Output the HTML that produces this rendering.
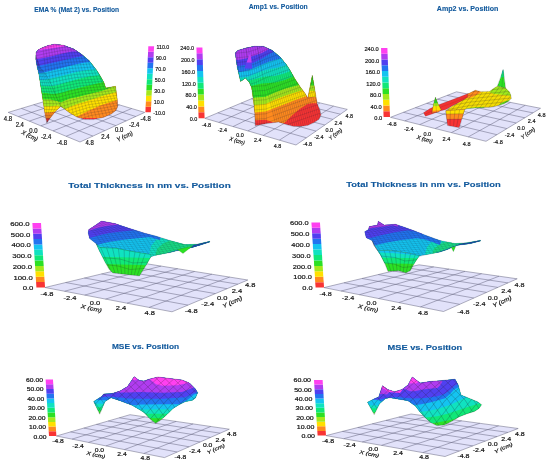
<!DOCTYPE html>
<html><head><meta charset="utf-8"><title>Plots</title>
<style>html,body{margin:0;padding:0;background:#fff;}svg{display:block;font-family:"Liberation Sans",sans-serif;filter:blur(0.35px);}</style>
</head><body>
<svg width="550" height="467" viewBox="0 0 550 467">
<rect width="550" height="467" fill="#ffffff"/>
<text transform="translate(76.7,12.2) scale(0.880,1)" font-size="7.60" text-anchor="middle" font-weight="bold" font-style="normal" fill="#10589c" stroke="#10589c" stroke-width="0.12">EMA % (Mat 2) vs. Position</text>
<polygon points="8.2,112.4 76.0,92.0 144.7,112.4 80.0,142.0" fill="#e2e2fa"/>
<path d="M8.2,112.4L76.0,92.0M8.2,112.4L80.0,142.0M18.4,116.6L86.1,95.0M21.4,108.4L92.9,136.1M29.3,121.1L96.6,98.1M33.7,104.7L104.8,130.6M40.8,125.8L107.7,101.4M45.2,101.3L115.9,125.6M53.0,130.9L119.4,104.9M56.1,98.0L126.2,120.9M66.1,136.3L131.7,108.5M66.3,94.9L135.8,116.5M80.0,142.0L144.7,112.4M76.0,92.0L144.7,112.4" stroke="#62627c" stroke-width="0.5" fill="none"/>
<clipPath id="c1"><polygon points="46.8,123.1 44.9,113.5 43.0,100.7 41.0,87.8 39.1,75.0 37.2,67.1 35.9,59.4 36.0,52.5 38.0,50.0 41.7,47.9 48.0,45.5 54.5,44.2 63.5,45.3 73.8,49.1 81.5,54.3 89.2,60.7 96.8,70.4 100.7,76.8 103.9,82.6 105.8,88.0 115.5,86.3 116.5,93.5 117.5,101.2 117.5,107.0 116.0,110.3 111.6,113.8 103.9,117.2 93.6,119.6 84.7,119.6 77.0,117.1 69.3,112.6 60.9,106.2 55.8,110.9 50.7,117.4"/></clipPath>
<g clip-path="url(#c1)">
<polygon points="46.8,123.1 44.9,113.5 43.0,100.7 41.0,87.8 39.1,75.0 37.2,67.1 35.9,59.4 36.0,52.5 38.0,50.0 41.7,47.9 48.0,45.5 54.5,44.2 63.5,45.3 73.8,49.1 81.5,54.3 89.2,60.7 96.8,70.4 100.7,76.8 103.9,82.6 105.8,88.0 115.5,86.3 116.5,93.5 117.5,101.2 117.5,107.0 116.0,110.3 111.6,113.8 103.9,117.2 93.6,119.6 84.7,119.6 77.0,117.1 69.3,112.6 60.9,106.2 55.8,110.9 50.7,117.4" fill="#f83434"/>
<polygon points="44.0,118.8 51.0,118.0 451.0,118.0 451.0,-282.0 -356.0,-281.2 -356.0,118.8" fill="#ff8a1e"/>
<polygon points="42.0,112.6 49.0,112.4 56.0,111.5 62.0,112.5 70.0,118.0 77.0,116.6 88.5,110.8 101.4,105.1 119.0,99.3 519.0,99.3 519.0,-300.7 -358.0,-287.4 -358.0,112.6" fill="#ffe000"/>
<polygon points="41.0,106.2 50.0,106.2 58.0,105.5 61.0,108.0 64.0,109.5 67.0,108.3 70.0,106.7 75.7,104.6 88.5,100.5 101.4,96.3 119.0,91.2 519.0,91.2 519.0,-308.8 -359.0,-293.8 -359.0,106.2" fill="#a4e81c"/>
<polygon points="40.0,99.4 50.0,99.6 57.0,101.0 60.9,102.5 65.0,100.5 70.0,98.6 75.7,97.5 88.5,94.2 101.4,91.0 106.5,89.3 116.0,85.0 516.0,85.0 516.0,-315.0 -360.0,-300.6 -360.0,99.4" fill="#2ce024"/>
<polygon points="39.0,92.6 46.0,93.0 52.0,94.0 58.0,93.6 64.0,92.0 70.0,90.0 75.7,88.8 88.5,85.6 101.4,82.4 106.0,81.0 506.0,81.0 506.0,-319.0 -361.0,-307.4 -361.0,92.6" fill="#10e878"/>
<polygon points="38.0,86.1 45.0,86.3 50.7,86.2 56.0,85.5 63.5,83.2 76.3,79.5 88.5,76.5 100.0,75.3 104.0,75.0 504.0,75.0 504.0,-325.0 -362.0,-313.9 -362.0,86.1" fill="#10e2c0"/>
<polygon points="37.0,80.1 44.0,80.0 50.7,78.6 63.5,75.4 76.3,72.0 88.0,69.8 98.0,69.2 498.0,69.2 498.0,-330.8 -363.0,-319.9 -363.0,80.1" fill="#14c4f0"/>
<polygon points="36.0,73.7 44.0,72.6 50.7,70.8 63.5,67.6 76.3,64.2 85.0,62.4 93.0,62.0 493.0,62.0 493.0,-338.0 -364.0,-326.3 -364.0,73.7" fill="#2274f0"/>
<polygon points="35.0,66.4 44.0,64.8 50.7,63.2 63.5,60.3 76.3,57.2 82.0,56.3 88.0,57.0 488.0,57.0 488.0,-343.0 -365.0,-333.6 -365.0,66.4" fill="#5040f0"/>
<polygon points="34.0,59.6 42.0,58.2 50.7,56.5 63.5,53.3 72.0,51.4 80.0,51.4 480.0,51.4 480.0,-348.6 -366.0,-340.4 -366.0,59.6" fill="#b03cf0"/>
<polygon points="34.0,51.5 38.0,50.3 44.0,49.3 50.7,48.2 60.0,47.0 67.4,45.5 72.0,45.5 472.0,45.5 472.0,-354.5 -366.0,-348.5 -366.0,51.5" fill="#ff40f0"/>
<path d="M33.0,46.3L35.9,46.7L41.9,45.4L49.9,43.7L61.9,41.5L77.9,40.4L95.9,39.0L120.9,38.4M33.0,49.3L35.9,49.7L41.9,48.4L49.9,46.7L61.9,44.5L77.9,43.4L95.9,42.0L120.9,41.4M33.0,52.3L35.9,52.7L41.9,51.4L49.9,49.7L61.9,47.5L77.9,46.4L95.9,45.0L120.9,44.4M33.0,55.3L35.9,55.7L41.9,54.4L49.9,52.7L61.9,50.5L77.9,49.4L95.9,48.0L120.9,47.4M33.0,58.3L36.2,58.7L42.2,57.4L50.2,55.7L62.2,53.5L78.2,52.4L96.2,51.0L121.2,50.4M33.0,61.3L36.5,61.7L42.5,60.4L50.5,58.7L62.5,56.5L78.5,55.4L96.5,54.0L121.5,53.4M33.0,64.3L38.3,64.7L44.3,63.4L52.3,61.7L64.3,59.5L80.3,58.4L98.3,57.0L123.3,56.4M33.0,67.3L40.6,67.7L46.6,66.4L54.6,64.7L66.6,62.5L82.6,61.4L100.6,60.0L125.6,59.4M33.0,70.3L42.7,70.7L48.7,69.4L56.7,67.7L68.7,65.5L84.7,64.4L102.7,63.0L127.7,62.4M33.0,73.3L44.9,73.7L50.9,72.4L58.9,70.7L70.9,68.5L86.9,67.4L104.9,66.0L129.9,65.4M33.0,76.3L46.9,76.7L52.9,75.4L60.9,73.7L72.9,71.5L88.9,70.4L106.9,69.0L131.9,68.4M33.0,79.3L48.6,79.7L54.6,78.4L62.6,76.7L74.6,74.5L90.6,73.4L108.6,72.0L133.6,71.4M33.0,82.3L50.2,82.7L56.2,81.4L64.2,79.7L76.2,77.5L92.2,76.4L110.2,75.0L135.2,74.4M33.0,85.3L51.7,85.7L57.7,84.4L65.7,82.7L77.7,80.5L93.7,79.3L111.7,77.9L136.7,77.2M33.0,88.3L52.8,88.7L58.8,87.3L66.8,85.5L78.8,83.2L94.8,81.9L112.8,80.3L137.8,79.4M33.0,91.3L54.0,91.7L60.0,90.2L68.0,88.4L80.0,85.9L96.0,84.5L114.0,82.7L139.0,81.5M33.0,94.3L55.2,94.7L61.2,93.1L69.2,91.2L81.2,88.6L97.2,87.1L115.2,85.1L140.2,83.7M33.0,97.3L56.6,97.7L62.6,96.1L70.6,94.0L82.6,91.3L98.6,89.7L116.6,87.5L141.6,85.8M33.0,100.3L58.0,100.7L64.0,99.0L72.0,96.9L84.0,94.0L100.0,92.2L118.0,89.9L143.0,88.0M33.0,103.3L59.4,103.7L65.4,101.9L73.4,99.7L85.4,96.7L101.4,94.8L119.4,92.3L144.4,90.1M33.0,106.3L60.8,106.7L66.8,104.9L74.8,102.6L86.8,99.4L102.8,97.4L120.8,94.7L145.8,92.3M33.0,109.3L61.4,109.7L67.4,107.8L75.4,105.4L87.4,102.1L103.4,100.0L121.4,97.1L146.4,94.4M33.0,112.3L62.0,112.7L68.0,110.7L76.0,108.2L88.0,104.8L104.0,102.6L122.0,99.5L147.0,96.6M33.0,115.3L62.6,115.7L68.6,113.7L76.6,111.1L88.6,107.5L104.6,105.1L122.6,101.9L147.6,98.7M33.0,118.3L63.2,118.7L69.2,116.6L77.2,113.9L89.2,110.2L105.2,107.7L123.2,104.3L148.2,100.9M33.0,121.3L63.8,121.7L69.8,119.5L77.8,116.8L89.8,112.9L105.8,110.3L123.8,106.7L148.8,103.0M33.0,124.3L64.4,124.7L70.4,122.5L78.4,119.6L90.4,115.6L106.4,112.9L124.4,109.1L149.4,105.2" fill="none" stroke="#202030" stroke-width="0.40" stroke-opacity="0.42"/>
</g>
<polygon points="46.8,123.1 44.9,113.5 43.0,100.7 41.0,87.8 39.1,75.0 37.2,67.1 35.9,59.4 36.0,52.5 38.0,50.0 41.7,47.9 48.0,45.5 54.5,44.2 63.5,45.3 73.8,49.1 81.5,54.3 89.2,60.7 96.8,70.4 100.7,76.8 103.9,82.6 105.8,88.0 115.5,86.3 116.5,93.5 117.5,101.2 117.5,107.0 116.0,110.3 111.6,113.8 103.9,117.2 93.6,119.6 84.7,119.6 77.0,117.1 69.3,112.6 60.9,106.2 55.8,110.9 50.7,117.4" fill="none" stroke="#202030" stroke-width="0.4" stroke-opacity="0.6"/>
<clipPath id="c2"><polygon points="35.9,55.0 37.2,67.1 39.1,75.0 41.0,87.8 43.0,100.7 44.9,113.5 46.8,123.1 46.8,123.1 55.8,110.9 60.8,106.5 55.0,94.0 51.2,84.3 46.4,75.6 41.6,68.9 36.5,57.0"/></clipPath>
<path d="M36.0,55.4L36.9,60.7L37.9,66.0L39.3,71.2L40.9,76.3L42.1,81.6L43.2,86.8L44.3,92.1L45.4,97.4L46.6,102.7L46.8,107.8L46.6,112.9L46.7,118.0L46.8,123.1M36.1,55.8L37.4,61.1L38.7,66.5L40.6,71.6L42.6,76.7L44.2,81.9L45.6,87.2L47.0,92.6L48.4,97.9L49.9,103.2L49.5,108.1L48.4,113.0L47.6,118.1L46.8,123.1M36.3,56.2L37.9,61.6L39.5,67.0L41.9,72.0L44.3,77.1L46.3,82.3L48.0,87.7L49.6,93.1L51.5,98.4L53.3,103.7L52.3,108.5L50.2,113.2L48.5,118.2L46.8,123.1M36.4,56.6L38.4,62.0L40.3,67.4L43.2,72.4L46.0,77.5L48.4,82.7L50.4,88.1L52.3,93.5L54.5,98.9L56.6,104.2L55.0,108.8L52.0,113.4L49.4,118.2L46.8,123.1" fill="none" stroke="#202030" stroke-width="0.4" stroke-opacity="0.42" clip-path="url(#c2)"/>
<clipPath id="c3"><polygon points="36.0,52.5 38.0,50.0 41.7,47.9 48.0,45.5 54.5,44.2 63.5,45.3 73.8,49.1 81.5,54.3 89.2,60.7 96.8,70.4 100.7,76.8 103.9,82.6 105.8,88.0 115.5,86.3 116.5,93.5 117.5,101.2 117.5,107.0 116.0,110.3 111.6,113.8 103.9,117.2 93.6,119.6 84.7,119.6 77.0,117.1 69.3,112.6 60.9,106.2 55.0,94.0 51.2,84.3 46.4,75.6 41.6,68.9 36.5,57.0"/></clipPath>
<path d="M42.0,40.0L45.6,70.0L49.4,100.0L52.8,125.0M44.6,40.0L48.6,70.0L52.9,100.0L56.6,125.0M47.3,40.0L51.7,70.0L56.4,100.0L60.4,125.0M50.0,40.0L54.7,70.0L59.8,100.0L64.3,125.0M52.6,40.0L57.8,70.0L63.3,100.0L68.1,125.0M55.2,40.0L60.8,70.0L66.7,100.0L71.9,125.0M57.9,40.0L63.8,70.0L70.2,100.0L75.7,125.0M60.5,40.0L66.9,70.0L73.6,100.0L79.5,125.0M63.2,40.0L69.9,70.0L77.1,100.0L83.4,125.0M65.8,40.0L73.0,70.0L80.5,100.0L87.2,125.0M68.5,40.0L76.0,70.0L84.0,100.0L91.0,125.0M71.2,40.0L79.0,70.0L87.5,100.0L94.8,125.0M73.8,40.0L82.1,70.0L90.9,100.0L98.6,125.0M76.4,40.0L85.1,70.0L94.4,100.0L102.5,125.0M79.1,40.0L88.2,70.0L97.8,100.0L106.3,125.0M81.8,40.0L91.2,70.0L101.3,100.0L110.1,125.0M84.4,40.0L94.2,70.0L104.7,100.0L113.9,125.0M87.0,40.0L97.3,70.0L108.2,100.0L117.7,125.0M89.7,40.0L100.3,70.0L111.6,100.0L121.6,125.0M92.3,40.0L103.4,70.0L115.1,100.0L125.4,125.0M95.0,40.0L106.4,70.0L118.6,100.0L129.2,125.0M97.7,40.0L109.4,70.0L122.0,100.0L133.0,125.0M100.3,40.0L112.5,70.0L125.5,100.0L136.8,125.0M102.9,40.0L115.5,70.0L128.9,100.0L140.7,125.0M105.6,40.0L118.6,70.0L132.4,100.0L144.5,125.0M108.2,40.0L121.6,70.0L135.8,100.0L148.3,125.0M110.9,40.0L124.6,70.0L139.3,100.0L152.1,125.0M113.5,40.0L127.7,70.0L142.8,100.0L155.9,125.0M116.2,40.0L130.7,70.0L146.2,100.0L159.8,125.0M118.8,40.0L133.8,70.0L149.7,100.0L163.6,125.0M121.5,40.0L136.8,70.0L153.1,100.0L167.4,125.0" fill="none" stroke="#202030" stroke-width="0.4" stroke-opacity="0.42" clip-path="url(#c3)"/>
<path d="M41.6,68.9L46.4,75.6L51.2,84.3L55.0,94.0L60.8,106.5" fill="none" stroke="#202030" stroke-width="0.5" stroke-opacity="0.5"/>
<polygon points="145.4,112.2 150.8,112.2 151.1,106.7 145.6,106.7" fill="#f83434"/>
<polygon points="145.6,106.7 151.1,106.7 151.4,101.2 145.9,101.2" fill="#ff8a1e"/>
<polygon points="145.9,101.2 151.4,101.2 151.6,95.7 146.1,95.7" fill="#ffe000"/>
<polygon points="146.1,95.7 151.6,95.7 151.9,90.2 146.4,90.2" fill="#a4e81c"/>
<polygon points="146.4,90.2 151.9,90.2 152.2,84.7 146.6,84.7" fill="#2ce024"/>
<polygon points="146.6,84.7 152.2,84.7 152.4,79.2 146.9,79.2" fill="#10e878"/>
<polygon points="146.9,79.2 152.4,79.2 152.7,73.7 147.1,73.7" fill="#10e2c0"/>
<polygon points="147.1,73.7 152.7,73.7 153.0,68.2 147.3,68.2" fill="#14c4f0"/>
<polygon points="147.3,68.2 153.0,68.2 153.3,62.7 147.6,62.7" fill="#2274f0"/>
<polygon points="147.6,62.7 153.3,62.7 153.6,57.2 147.8,57.2" fill="#5040f0"/>
<polygon points="147.8,57.2 153.6,57.2 153.8,51.7 148.1,51.7" fill="#b03cf0"/>
<polygon points="148.1,51.7 153.8,51.7 154.1,46.2 148.3,46.2" fill="#ff40f0"/>
<text transform="translate(156.4,49.1) scale(0.900,1)" font-size="5.90" text-anchor="start" font-weight="normal" font-style="normal" fill="#111" stroke="#111" stroke-width="0.18">110.0</text>
<text transform="translate(155.9,60.2) scale(0.900,1)" font-size="5.90" text-anchor="start" font-weight="normal" font-style="normal" fill="#111" stroke="#111" stroke-width="0.18">90.0</text>
<text transform="translate(155.3,71.2) scale(0.900,1)" font-size="5.90" text-anchor="start" font-weight="normal" font-style="normal" fill="#111" stroke="#111" stroke-width="0.18">70.0</text>
<text transform="translate(154.8,82.2) scale(0.900,1)" font-size="5.90" text-anchor="start" font-weight="normal" font-style="normal" fill="#111" stroke="#111" stroke-width="0.18">50.0</text>
<text transform="translate(154.3,93.3) scale(0.900,1)" font-size="5.90" text-anchor="start" font-weight="normal" font-style="normal" fill="#111" stroke="#111" stroke-width="0.18">30.0</text>
<text transform="translate(153.7,104.3) scale(0.900,1)" font-size="5.90" text-anchor="start" font-weight="normal" font-style="normal" fill="#111" stroke="#111" stroke-width="0.18">10.0</text>
<text transform="translate(153.2,115.3) scale(0.900,1)" font-size="5.90" text-anchor="start" font-weight="normal" font-style="normal" fill="#111" stroke="#111" stroke-width="0.18">-10.0</text>
<text transform="translate(8.0,121.1) scale(0.930,1)" font-size="6.40" text-anchor="middle" font-weight="normal" font-style="normal" fill="#111" stroke="#111" stroke-width="0.18">4.8</text>
<text transform="translate(19.8,126.8) scale(0.930,1)" font-size="6.40" text-anchor="middle" font-weight="normal" font-style="normal" fill="#111" stroke="#111" stroke-width="0.18">2.4</text>
<text transform="translate(33.5,132.7) scale(0.930,1)" font-size="6.40" text-anchor="middle" font-weight="normal" font-style="normal" fill="#111" stroke="#111" stroke-width="0.18">0.0</text>
<text transform="translate(46.1,138.8) scale(0.930,1)" font-size="6.40" text-anchor="middle" font-weight="normal" font-style="normal" fill="#111" stroke="#111" stroke-width="0.18">-2.4</text>
<text transform="translate(61.9,145.1) scale(0.930,1)" font-size="6.40" text-anchor="middle" font-weight="normal" font-style="normal" fill="#111" stroke="#111" stroke-width="0.18">-4.8</text>
<text transform="translate(89.7,145.1) scale(0.930,1)" font-size="6.40" text-anchor="middle" font-weight="normal" font-style="normal" fill="#111" stroke="#111" stroke-width="0.18">4.8</text>
<text transform="translate(105.5,138.8) scale(0.930,1)" font-size="6.40" text-anchor="middle" font-weight="normal" font-style="normal" fill="#111" stroke="#111" stroke-width="0.18">2.4</text>
<text transform="translate(119.2,132.4) scale(0.930,1)" font-size="6.40" text-anchor="middle" font-weight="normal" font-style="normal" fill="#111" stroke="#111" stroke-width="0.18">0.0</text>
<text transform="translate(134.1,126.6) scale(0.930,1)" font-size="6.40" text-anchor="middle" font-weight="normal" font-style="normal" fill="#111" stroke="#111" stroke-width="0.18">-2.4</text>
<text transform="translate(145.6,121.1) scale(0.930,1)" font-size="6.40" text-anchor="middle" font-weight="normal" font-style="normal" fill="#111" stroke="#111" stroke-width="0.18">-4.8</text>
<text transform="translate(28.8,137.6) rotate(27.0) scale(0.930,1)" font-size="6.30" text-anchor="middle" font-weight="normal" font-style="italic" fill="#111" stroke="#111" stroke-width="0.18">X (cm)</text>
<text transform="translate(125.6,138.2) rotate(-27.0) scale(0.930,1)" font-size="6.30" text-anchor="middle" font-weight="normal" font-style="italic" fill="#111" stroke="#111" stroke-width="0.18">Y (cm)</text>
<text transform="translate(278.2,8.8) scale(0.920,1)" font-size="7.40" text-anchor="middle" font-weight="bold" font-style="normal" fill="#10589c" stroke="#10589c" stroke-width="0.12">Amp1 vs. Position</text>
<polygon points="204.8,118.3 270.0,91.0 347.3,109.4 296.0,145.0" fill="#e2e2fa"/>
<path d="M204.8,118.3L270.0,91.0M204.8,118.3L296.0,145.0M218.7,122.4L282.0,93.9M217.8,112.8L306.4,137.8M233.0,126.6L294.3,96.8M229.9,107.8L316.0,131.1M247.9,130.9L307.0,99.8M241.0,103.1L324.8,125.0M263.3,135.4L320.0,102.9M251.4,98.8L332.9,119.4M279.4,140.1L333.5,106.1M261.0,94.8L340.4,114.2M296.0,145.0L347.3,109.4M270.0,91.0L347.3,109.4" stroke="#62627c" stroke-width="0.5" fill="none"/>
<clipPath id="c4"><polygon points="235.3,53.0 237.8,50.4 246.0,48.0 254.5,46.3 263.5,46.4 272.0,50.2 279.9,56.8 286.3,64.5 289.9,70.1 295.0,79.1 300.1,86.8 305.0,93.2 307.8,97.9 312.3,75.3 317.2,103.5 320.0,109.9 321.0,115.1 319.2,119.2 314.2,122.6 307.5,125.5 300.0,126.5 293.9,126.5 286.2,124.6 278.5,121.9 265.7,123.8 255.2,125.8 254.8,113.5 253.5,100.7 251.6,87.8 249.4,82.5 245.5,78.0 240.6,81.5 237.2,67.1"/></clipPath>
<g clip-path="url(#c4)">
<polygon points="235.3,53.0 237.8,50.4 246.0,48.0 254.5,46.3 263.5,46.4 272.0,50.2 279.9,56.8 286.3,64.5 289.9,70.1 295.0,79.1 300.1,86.8 305.0,93.2 307.8,97.9 312.3,75.3 317.2,103.5 320.0,109.9 321.0,115.1 319.2,119.2 314.2,122.6 307.5,125.5 300.0,126.5 293.9,126.5 286.2,124.6 278.5,121.9 265.7,123.8 255.2,125.8 254.8,113.5 253.5,100.7 251.6,87.8 249.4,82.5 245.5,78.0 240.6,81.5 237.2,67.1" fill="#f83434"/>
<polygon points="250.0,120.5 265.5,119.8 274.0,122.5 280.0,124.2 285.0,122.5 292.0,115.5 300.0,108.8 307.5,104.0 312.0,103.2 324.0,103.2 724.0,103.2 724.0,-296.8 -150.0,-279.5 -150.0,120.5" fill="#ff8a1e"/>
<polygon points="250.0,112.8 265.5,111.5 275.0,107.8 285.0,104.0 296.0,99.7 306.7,96.0 310.0,97.1 322.0,97.1 722.0,97.1 722.0,-302.9 -150.0,-287.2 -150.0,112.8" fill="#ffe000"/>
<polygon points="250.0,105.3 265.5,104.0 275.0,99.5 285.0,95.7 295.0,92.4 303.0,90.0 309.0,90.7 324.0,90.7 724.0,90.7 724.0,-309.3 -150.0,-294.7 -150.0,105.3" fill="#a4e81c"/>
<polygon points="250.0,98.0 265.5,96.8 275.0,92.4 285.0,88.8 293.0,86.6 300.0,84.7 310.0,85.5 324.0,85.5 724.0,85.5 724.0,-314.5 -150.0,-302.0 -150.0,98.0" fill="#2ce024"/>
<polygon points="246.0,87.0 253.0,85.5 262.0,83.6 265.5,83.2 275.0,82.6 285.0,80.0 294.7,76.0 300.0,75.0 324.0,72.0 724.0,72.0 724.0,-328.0 -154.0,-313.0 -154.0,87.0" fill="#10e878"/>
<polygon points="246.0,81.5 253.0,79.5 262.0,77.2 265.5,76.4 275.0,76.0 285.0,73.2 291.0,70.8 300.0,68.0 700.0,68.0 700.0,-332.0 -154.0,-318.5 -154.0,81.5" fill="#10e2c0"/>
<polygon points="234.0,77.6 240.0,77.4 248.0,76.8 253.0,74.5 262.0,71.0 270.0,69.0 278.0,67.6 285.0,65.5 295.0,62.5 695.0,62.5 695.0,-337.5 -166.0,-322.4 -166.0,77.6" fill="#14c4f0"/>
<polygon points="234.0,72.3 240.0,72.1 248.0,70.5 253.0,68.5 262.0,64.5 270.0,61.3 280.0,58.4 290.0,56.0 690.0,56.0 690.0,-344.0 -166.0,-327.7 -166.0,72.3" fill="#2274f0"/>
<polygon points="233.0,65.9 240.0,65.7 248.0,64.5 253.0,63.0 262.0,58.5 270.0,53.5 278.0,50.0 290.0,46.0 690.0,46.0 690.0,-354.0 -167.0,-334.1 -167.0,65.9" fill="#5040f0"/>
<polygon points="233.0,60.0 240.0,59.8 248.0,58.0 253.0,56.0 262.0,53.0 270.0,48.5 275.0,46.0 280.0,43.0 680.0,43.0 680.0,-357.0 -167.0,-340.0 -167.0,60.0" fill="#b03cf0"/>
<path d="M233.0,48.8L248.0,47.3L256.0,44.8L265.5,40.3L285.0,33.3L300.0,28.3L322.0,21.3M233.0,53.5L248.0,52.0L256.0,49.5L265.5,45.0L285.0,38.0L300.0,33.0L322.0,26.0M233.0,58.2L248.0,56.7L256.0,54.2L265.5,49.7L285.0,42.7L300.0,37.7L322.0,30.7M233.0,62.9L248.0,61.4L256.0,58.9L265.5,54.4L285.0,47.4L300.0,42.4L322.0,35.4M233.0,67.6L248.0,66.1L256.0,63.6L265.5,59.1L285.0,52.1L300.0,47.1L322.0,40.1M233.0,72.3L248.0,70.8L256.0,68.3L265.5,63.8L285.0,56.8L300.0,51.8L322.0,44.8M233.0,77.0L248.0,75.5L256.0,73.0L265.5,68.5L285.0,61.5L300.0,56.5L322.0,49.5M233.0,81.7L248.0,80.2L256.0,77.7L265.5,73.2L285.0,66.2L300.0,61.2L322.0,54.2M233.0,86.4L248.0,84.9L256.0,82.4L265.5,77.9L285.0,70.9L300.0,65.9L322.0,58.9M250.0,86.8L265.5,85.6L285.0,78.4L300.0,73.1L322.0,65.6M250.0,91.5L265.5,90.3L285.0,83.1L300.0,77.8L322.0,70.3M250.0,96.2L265.5,95.0L285.0,87.8L300.0,82.5L322.0,75.0M250.0,100.9L265.5,99.7L285.0,92.5L300.0,87.2L322.0,79.7M250.0,105.6L265.5,104.4L285.0,97.2L300.0,91.9L322.0,84.4M250.0,110.3L265.5,109.1L285.0,101.9L300.0,96.6L322.0,89.1M250.0,115.0L265.5,113.8L285.0,106.6L300.0,101.3L322.0,93.8M250.0,119.7L265.5,118.5L285.0,111.3L300.0,106.0L322.0,98.5M250.0,124.4L265.5,123.2L285.0,116.0L300.0,110.7L322.0,103.2M250.0,129.1L265.5,127.9L285.0,120.7L300.0,115.4L322.0,107.9M250.0,133.8L265.5,132.6L285.0,125.4L300.0,120.1L322.0,112.6M256.0,40.0L263.0,75.0L271.0,105.0L277.0,130.0M258.1,40.0L265.1,75.0L273.1,105.0L279.1,130.0M260.2,40.0L267.2,75.0L275.2,105.0L281.2,130.0M262.3,40.0L269.3,75.0L277.3,105.0L283.3,130.0M264.4,40.0L271.4,75.0L279.4,105.0L285.4,130.0M266.5,40.0L273.5,75.0L281.5,105.0L287.5,130.0M268.6,40.0L275.6,75.0L283.6,105.0L289.6,130.0M270.7,40.0L277.7,75.0L285.7,105.0L291.7,130.0M272.8,40.0L279.8,75.0L287.8,105.0L293.8,130.0M274.9,40.0L281.9,75.0L289.9,105.0L295.9,130.0M277.0,40.0L284.0,75.0L292.0,105.0L298.0,130.0M279.1,40.0L286.1,75.0L294.1,105.0L300.1,130.0M281.2,40.0L288.2,75.0L296.2,105.0L302.2,130.0M283.3,40.0L290.3,75.0L298.3,105.0L304.3,130.0M285.4,40.0L292.4,75.0L300.4,105.0L306.4,130.0M287.5,40.0L294.5,75.0L302.5,105.0L308.5,130.0M289.6,40.0L296.6,75.0L304.6,105.0L310.6,130.0M291.7,40.0L298.7,75.0L306.7,105.0L312.7,130.0M293.8,40.0L300.8,75.0L308.8,105.0L314.8,130.0M295.9,40.0L302.9,75.0L310.9,105.0L316.9,130.0M298.0,40.0L305.0,75.0L313.0,105.0L319.0,130.0M300.1,40.0L307.1,75.0L315.1,105.0L321.1,130.0M302.2,40.0L309.2,75.0L317.2,105.0L323.2,130.0M304.3,40.0L311.3,75.0L319.3,105.0L325.3,130.0M306.4,40.0L313.4,75.0L321.4,105.0L327.4,130.0M308.5,40.0L315.5,75.0L323.5,105.0L329.5,130.0M310.6,40.0L317.6,75.0L325.6,105.0L331.6,130.0M312.7,40.0L319.7,75.0L327.7,105.0L333.7,130.0M314.8,40.0L321.8,75.0L329.8,105.0L335.8,130.0M316.9,40.0L323.9,75.0L331.9,105.0L337.9,130.0M244.5,40.0L251.5,80.0L254.5,100.0L255.0,127.0M246.8,40.0L253.8,80.0L256.8,100.0L257.3,127.0M249.1,40.0L256.1,80.0L259.1,100.0L259.6,127.0M251.4,40.0L258.4,80.0L261.4,100.0L261.9,127.0M253.7,40.0L260.7,80.0L263.7,100.0L264.2,127.0M256.0,40.0L263.0,80.0L266.0,100.0L266.5,127.0M236.0,45.0L238.5,70.0L241.0,90.0M238.4,45.0L240.9,70.0L243.4,90.0M240.8,45.0L243.3,70.0L245.8,90.0M243.2,45.0L245.7,70.0L248.2,90.0M245.6,45.0L248.1,70.0L250.6,90.0" fill="none" stroke="#202030" stroke-width="0.40" stroke-opacity="0.42"/>
</g>
<polygon points="235.3,53.0 237.8,50.4 246.0,48.0 254.5,46.3 263.5,46.4 272.0,50.2 279.9,56.8 286.3,64.5 289.9,70.1 295.0,79.1 300.1,86.8 305.0,93.2 307.8,97.9 312.3,75.3 317.2,103.5 320.0,109.9 321.0,115.1 319.2,119.2 314.2,122.6 307.5,125.5 300.0,126.5 293.9,126.5 286.2,124.6 278.5,121.9 265.7,123.8 255.2,125.8 254.8,113.5 253.5,100.7 251.6,87.8 249.4,82.5 245.5,78.0 240.6,81.5 237.2,67.1" fill="none" stroke="#202030" stroke-width="0.4" stroke-opacity="0.6"/>
<polygon points="244.4,68.5 250.3,51.8 252.2,68.5" fill="#5a40f0"/>
<polygon points="246.6,62.5 250.3,51.8 251.6,62.5" fill="#c83cf0"/>
<polygon points="198.6,118.2 204.6,118.2 204.4,112.3 198.4,112.3" fill="#f83434"/>
<polygon points="198.4,112.3 204.4,112.3 204.2,106.4 198.2,106.4" fill="#ff8a1e"/>
<polygon points="198.2,106.4 204.2,106.4 204.1,100.5 198.1,100.5" fill="#ffe000"/>
<polygon points="198.1,100.5 204.1,100.5 203.9,94.6 197.9,94.6" fill="#a4e81c"/>
<polygon points="197.9,94.6 203.9,94.6 203.7,88.7 197.7,88.7" fill="#2ce024"/>
<polygon points="197.7,88.7 203.7,88.7 203.5,82.8 197.5,82.8" fill="#10e878"/>
<polygon points="197.5,82.8 203.5,82.8 203.3,76.9 197.3,76.9" fill="#10e2c0"/>
<polygon points="197.3,76.9 203.3,76.9 203.1,71.0 197.1,71.0" fill="#14c4f0"/>
<polygon points="197.1,71.0 203.1,71.0 202.9,65.1 196.9,65.1" fill="#2274f0"/>
<polygon points="196.9,65.1 202.9,65.1 202.8,59.2 196.8,59.2" fill="#5040f0"/>
<polygon points="196.8,59.2 202.8,59.2 202.6,53.3 196.6,53.3" fill="#b03cf0"/>
<polygon points="196.6,53.3 202.6,53.3 202.4,47.4 196.4,47.4" fill="#ff40f0"/>
<text transform="translate(194.0,50.4) scale(0.930,1)" font-size="5.90" text-anchor="end" font-weight="normal" font-style="normal" fill="#111" stroke="#111" stroke-width="0.18">240.0</text>
<text transform="translate(194.6,62.2) scale(0.930,1)" font-size="5.90" text-anchor="end" font-weight="normal" font-style="normal" fill="#111" stroke="#111" stroke-width="0.18">200.0</text>
<text transform="translate(195.1,73.9) scale(0.930,1)" font-size="5.90" text-anchor="end" font-weight="normal" font-style="normal" fill="#111" stroke="#111" stroke-width="0.18">160.0</text>
<text transform="translate(195.7,85.7) scale(0.930,1)" font-size="5.90" text-anchor="end" font-weight="normal" font-style="normal" fill="#111" stroke="#111" stroke-width="0.18">120.0</text>
<text transform="translate(196.2,97.4) scale(0.930,1)" font-size="5.90" text-anchor="end" font-weight="normal" font-style="normal" fill="#111" stroke="#111" stroke-width="0.18">80.0</text>
<text transform="translate(196.8,109.2) scale(0.930,1)" font-size="5.90" text-anchor="end" font-weight="normal" font-style="normal" fill="#111" stroke="#111" stroke-width="0.18">40.0</text>
<text transform="translate(197.3,120.9) scale(0.930,1)" font-size="5.90" text-anchor="end" font-weight="normal" font-style="normal" fill="#111" stroke="#111" stroke-width="0.18">0.0</text>
<text transform="translate(206.4,126.8) scale(0.930,1)" font-size="5.80" text-anchor="middle" font-weight="normal" font-style="normal" fill="#111" stroke="#111" stroke-width="0.18">-4.8</text>
<text transform="translate(222.4,131.7) scale(0.930,1)" font-size="5.80" text-anchor="middle" font-weight="normal" font-style="normal" fill="#111" stroke="#111" stroke-width="0.18">-2.4</text>
<text transform="translate(240.1,136.6) scale(0.930,1)" font-size="5.80" text-anchor="middle" font-weight="normal" font-style="normal" fill="#111" stroke="#111" stroke-width="0.18">0.0</text>
<text transform="translate(257.8,142.3) scale(0.930,1)" font-size="5.80" text-anchor="middle" font-weight="normal" font-style="normal" fill="#111" stroke="#111" stroke-width="0.18">2.4</text>
<text transform="translate(277.5,147.6) scale(0.930,1)" font-size="5.80" text-anchor="middle" font-weight="normal" font-style="normal" fill="#111" stroke="#111" stroke-width="0.18">4.8</text>
<text transform="translate(307.3,146.3) scale(0.930,1)" font-size="5.80" text-anchor="middle" font-weight="normal" font-style="normal" fill="#111" stroke="#111" stroke-width="0.18">-4.8</text>
<text transform="translate(318.8,138.6) scale(0.930,1)" font-size="5.80" text-anchor="middle" font-weight="normal" font-style="normal" fill="#111" stroke="#111" stroke-width="0.18">-2.4</text>
<text transform="translate(329.2,131.7) scale(0.930,1)" font-size="5.80" text-anchor="middle" font-weight="normal" font-style="normal" fill="#111" stroke="#111" stroke-width="0.18">0.0</text>
<text transform="translate(338.3,124.9) scale(0.930,1)" font-size="5.80" text-anchor="middle" font-weight="normal" font-style="normal" fill="#111" stroke="#111" stroke-width="0.18">2.4</text>
<text transform="translate(349.2,118.1) scale(0.930,1)" font-size="5.80" text-anchor="middle" font-weight="normal" font-style="normal" fill="#111" stroke="#111" stroke-width="0.18">4.8</text>
<text transform="translate(236.5,142.6) rotate(18.0) scale(0.930,1)" font-size="5.70" text-anchor="middle" font-weight="normal" font-style="italic" fill="#111" stroke="#111" stroke-width="0.18">X (cm)</text>
<text transform="translate(336.5,135.8) rotate(-38.0) scale(0.930,1)" font-size="5.70" text-anchor="middle" font-weight="normal" font-style="italic" fill="#111" stroke="#111" stroke-width="0.18">Y (cm)</text>
<text transform="translate(467.6,10.6) scale(0.960,1)" font-size="7.40" text-anchor="middle" font-weight="bold" font-style="normal" fill="#10589c" stroke="#10589c" stroke-width="0.12">Amp2 vs. Position</text>
<polygon points="390.5,117.3 456.5,91.8 540.5,108.3 486.0,141.3" fill="#e2e2fa"/>
<path d="M390.5,117.3L456.5,91.8M390.5,117.3L486.0,141.3M404.8,120.9L469.3,94.3M403.4,112.3L496.9,134.7M419.7,124.6L482.6,96.9M415.4,107.7L506.9,128.6M435.2,128.5L496.3,99.6M426.7,103.3L516.2,123.0M451.4,132.6L510.5,102.4M437.3,99.2L524.9,117.8M468.3,136.9L525.2,105.3M447.2,95.4L533.0,112.9M486.0,141.3L540.5,108.3M456.5,91.8L540.5,108.3" stroke="#62627c" stroke-width="0.5" fill="none"/>
<polygon points="423.5,112.8 430.0,108.5 440.0,104.3 450.0,100.6 460.0,96.8 468.0,93.6 472.0,96.5 468.0,98.8 460.0,102.0 452.0,106.0 446.0,109.5 440.0,111.0 432.0,114.0 425.5,116.2" fill="#f03232" stroke="#202030" stroke-width="0.3" stroke-opacity="0.5"/>
<path d="M424.5,114.6L432,110.8L442,106.6L452,103L462,99L470,95.5" stroke="#a02020" stroke-width="0.4" fill="none" stroke-opacity="0.6"/>
<clipPath id="c5"><polygon points="435.5,97.2 437.6,103.0 441.2,110.0 438.0,112.2 431.8,112.9 433.6,104.0"/></clipPath>
<g clip-path="url(#c5)">
<polygon points="435.5,97.2 437.6,103.0 441.2,110.0 438.0,112.2 431.8,112.9 433.6,104.0" fill="#ff8a1e"/>
<polygon points="428.0,110.8 444.0,110.2 844.0,110.2 844.0,-289.8 28.0,-289.2 28.0,110.8" fill="#ffe000"/>
<polygon points="428.0,106.2 444.0,106.0 844.0,106.0 844.0,-294.0 28.0,-293.8 28.0,106.2" fill="#a4e81c"/>
<polygon points="428.0,103.2 444.0,103.0 844.0,103.0 844.0,-297.0 28.0,-296.8 28.0,103.2" fill="#2ce024"/>
<path d="M435.5,97.2L436.5,112.5" fill="none" stroke="#202030" stroke-width="0.40" stroke-opacity="0.40"/>
</g>
<polygon points="435.5,97.2 437.6,103.0 441.2,110.0 438.0,112.2 431.8,112.9 433.6,104.0" fill="none" stroke="#202030" stroke-width="0.4" stroke-opacity="0.6"/>
<clipPath id="c6"><polygon points="445.8,110.7 452.0,106.3 460.0,101.8 467.7,97.3 467.7,94.0 475.3,90.2 480.8,91.4 489.5,91.3 495.0,87.5 497.4,86.3 505.0,87.6 509.6,92.1 510.8,95.3 511.5,98.5 508.0,101.5 503.8,103.7 495.0,106.5 489.5,107.6 478.6,107.8 467.7,108.6 464.4,109.6"/></clipPath>
<g clip-path="url(#c6)">
<polygon points="445.8,110.7 452.0,106.3 460.0,101.8 467.7,97.3 467.7,94.0 475.3,90.2 480.8,91.4 489.5,91.3 495.0,87.5 497.4,86.3 505.0,87.6 509.6,92.1 510.8,95.3 511.5,98.5 508.0,101.5 503.8,103.7 495.0,106.5 489.5,107.6 478.6,107.8 467.7,108.6 464.4,109.6" fill="#f4dc04"/>
<polygon points="466,96 467.7,93 475.3,89.5 481.5,92.2 472.5,96.9 468,98.5" fill="#ff8a1e"/>
<polygon points="489,92 491,90.6 497.4,85.5 506,87 511,92 512,96 503.8,94.9 493.5,93.8" fill="#9fe81c"/>
<polygon points="463,110.5 468,108 478,107.2 484,106.8 484,109 464,111.5" fill="#58e020"/>
<polygon points="500,103.8 506,101 510,99.8 512,100 505,105 498,107" fill="#58e020"/>
<path d="M440.0,114.0L462.0,84.0M444.4,114.0L466.4,84.0M448.8,114.0L470.8,84.0M453.2,114.0L475.2,84.0M457.6,114.0L479.6,84.0M462.0,114.0L484.0,84.0M466.4,114.0L488.4,84.0M470.8,114.0L492.8,84.0M475.2,114.0L497.2,84.0M479.6,114.0L501.6,84.0M484.0,114.0L506.0,84.0M488.4,114.0L510.4,84.0M492.8,114.0L514.8,84.0M497.2,114.0L519.2,84.0M501.6,114.0L523.6,84.0M506.0,114.0L528.0,84.0M440.0,94.0L470.0,88.5L515.0,84.0M440.0,97.4L470.0,91.9L515.0,87.4M440.0,100.8L470.0,95.3L515.0,90.8M440.0,104.2L470.0,98.7L515.0,94.2M440.0,107.6L470.0,102.1L515.0,97.6M440.0,111.0L470.0,105.5L515.0,101.0M440.0,114.4L470.0,108.9L515.0,104.4M440.0,117.8L470.0,112.3L515.0,107.8M440.0,121.2L470.0,115.7L515.0,111.2" fill="none" stroke="#202030" stroke-width="0.4" stroke-opacity="0.5"/>
</g>
<polygon points="445.8,110.7 452.0,106.3 460.0,101.8 467.7,97.3 467.7,94.0 475.3,90.2 480.8,91.4 489.5,91.3 495.0,87.5 497.4,86.3 505.0,87.6 509.6,92.1 510.8,95.3 511.5,98.5 508.0,101.5 503.8,103.7 495.0,106.5 489.5,107.6 478.6,107.8 467.7,108.6 464.4,109.6" fill="none" stroke="#202030" stroke-width="0.35" stroke-opacity="0.5"/>
<clipPath id="c7"><polygon points="445.8,110.7 464.7,109.3 459.3,127.8 447.4,125.4"/></clipPath>
<g clip-path="url(#c7)">
<polygon points="445.8,110.7 464.7,109.3 459.3,127.8 447.4,125.4" fill="#f83434"/>
<polygon points="440.0,119.4 470.0,119.0 870.0,119.0 870.0,-281.0 40.0,-280.6 40.0,119.4" fill="#ff8a1e"/>
<polygon points="440.0,114.2 470.0,113.6 870.0,113.6 870.0,-286.4 40.0,-285.8 40.0,114.2" fill="#ffe000"/>
<path d="M450.4,110.3L450.0,125.5M455.0,110.0L453.5,126.3M459.7,109.7L456.6,127.0M440.0,119.4L470.0,119.0M440.0,114.2L470.0,113.6" fill="none" stroke="#202030" stroke-width="0.40" stroke-opacity="0.50"/>
</g>
<polygon points="445.8,110.7 464.7,109.3 459.3,127.8 447.4,125.4" fill="none" stroke="#202030" stroke-width="0.4" stroke-opacity="0.6"/>
<clipPath id="c8"><polygon points="503.1,69.6 504.3,78.0 505.6,88.0 497.4,86.0 500.6,77.5"/></clipPath>
<g clip-path="url(#c8)">
<polygon points="503.1,69.6 504.3,78.0 505.6,88.0 497.4,86.0 500.6,77.5" fill="#2ce024"/>
<polygon points="495.0,77.2 508.0,77.2 908.0,77.2 908.0,-322.8 95.0,-322.8 95.0,77.2" fill="#10e878"/>
<polygon points="495.0,73.2 508.0,73.2 908.0,73.2 908.0,-326.8 95.0,-326.8 95.0,73.2" fill="#10e2c0"/>
<path d="M503.1,69.6L502.0,87.0" fill="none" stroke="#202030" stroke-width="0.40" stroke-opacity="0.35"/>
</g>
<polygon points="503.1,69.6 504.3,78.0 505.6,88.0 497.4,86.0 500.6,77.5" fill="none" stroke="#202030" stroke-width="0.4" stroke-opacity="0.6"/>
<polygon points="383.6,117.0 390.0,117.0 389.8,111.3 383.4,111.3" fill="#f83434"/>
<polygon points="383.4,111.3 389.8,111.3 389.6,105.5 383.2,105.5" fill="#ff8a1e"/>
<polygon points="383.2,105.5 389.6,105.5 389.4,99.8 383.0,99.8" fill="#ffe000"/>
<polygon points="383.0,99.8 389.4,99.8 389.1,94.0 382.7,94.0" fill="#a4e81c"/>
<polygon points="382.7,94.0 389.1,94.0 388.9,88.3 382.5,88.3" fill="#2ce024"/>
<polygon points="382.5,88.3 388.9,88.3 388.7,82.6 382.3,82.6" fill="#10e878"/>
<polygon points="382.3,82.6 388.7,82.6 388.5,76.8 382.1,76.8" fill="#10e2c0"/>
<polygon points="382.1,76.8 388.5,76.8 388.3,71.1 381.9,71.1" fill="#14c4f0"/>
<polygon points="381.9,71.1 388.3,71.1 388.0,65.3 381.6,65.3" fill="#2274f0"/>
<polygon points="381.6,65.3 388.0,65.3 387.8,59.6 381.4,59.6" fill="#5040f0"/>
<polygon points="381.4,59.6 387.8,59.6 387.6,53.8 381.2,53.8" fill="#b03cf0"/>
<polygon points="381.2,53.8 387.6,53.8 387.4,48.1 381.0,48.1" fill="#ff40f0"/>
<text transform="translate(378.7,51.3) scale(0.970,1)" font-size="5.90" text-anchor="end" font-weight="normal" font-style="normal" fill="#111" stroke="#111" stroke-width="0.18">240.0</text>
<text transform="translate(379.3,62.8) scale(0.970,1)" font-size="5.90" text-anchor="end" font-weight="normal" font-style="normal" fill="#111" stroke="#111" stroke-width="0.18">200.0</text>
<text transform="translate(379.9,74.2) scale(0.970,1)" font-size="5.90" text-anchor="end" font-weight="normal" font-style="normal" fill="#111" stroke="#111" stroke-width="0.18">160.0</text>
<text transform="translate(380.5,85.7) scale(0.970,1)" font-size="5.90" text-anchor="end" font-weight="normal" font-style="normal" fill="#111" stroke="#111" stroke-width="0.18">120.0</text>
<text transform="translate(381.1,97.1) scale(0.970,1)" font-size="5.90" text-anchor="end" font-weight="normal" font-style="normal" fill="#111" stroke="#111" stroke-width="0.18">80.0</text>
<text transform="translate(381.7,108.6) scale(0.970,1)" font-size="5.90" text-anchor="end" font-weight="normal" font-style="normal" fill="#111" stroke="#111" stroke-width="0.18">40.0</text>
<text transform="translate(382.3,120.0) scale(0.970,1)" font-size="5.90" text-anchor="end" font-weight="normal" font-style="normal" fill="#111" stroke="#111" stroke-width="0.18">0.0</text>
<text transform="translate(391.8,125.8) scale(0.960,1)" font-size="5.80" text-anchor="middle" font-weight="normal" font-style="normal" fill="#111" stroke="#111" stroke-width="0.18">-4.8</text>
<text transform="translate(408.7,130.9) scale(0.960,1)" font-size="5.80" text-anchor="middle" font-weight="normal" font-style="normal" fill="#111" stroke="#111" stroke-width="0.18">-2.4</text>
<text transform="translate(427.3,135.5) scale(0.960,1)" font-size="5.80" text-anchor="middle" font-weight="normal" font-style="normal" fill="#111" stroke="#111" stroke-width="0.18">0.0</text>
<text transform="translate(446.4,140.8) scale(0.960,1)" font-size="5.80" text-anchor="middle" font-weight="normal" font-style="normal" fill="#111" stroke="#111" stroke-width="0.18">2.4</text>
<text transform="translate(466.7,146.0) scale(0.960,1)" font-size="5.80" text-anchor="middle" font-weight="normal" font-style="normal" fill="#111" stroke="#111" stroke-width="0.18">4.8</text>
<text transform="translate(498.0,144.1) scale(0.960,1)" font-size="5.80" text-anchor="middle" font-weight="normal" font-style="normal" fill="#111" stroke="#111" stroke-width="0.18">-4.8</text>
<text transform="translate(509.6,137.1) scale(0.960,1)" font-size="5.80" text-anchor="middle" font-weight="normal" font-style="normal" fill="#111" stroke="#111" stroke-width="0.18">-2.4</text>
<text transform="translate(521.0,129.7) scale(0.960,1)" font-size="5.80" text-anchor="middle" font-weight="normal" font-style="normal" fill="#111" stroke="#111" stroke-width="0.18">0.0</text>
<text transform="translate(531.6,123.1) scale(0.960,1)" font-size="5.80" text-anchor="middle" font-weight="normal" font-style="normal" fill="#111" stroke="#111" stroke-width="0.18">2.4</text>
<text transform="translate(541.6,117.1) scale(0.960,1)" font-size="5.80" text-anchor="middle" font-weight="normal" font-style="normal" fill="#111" stroke="#111" stroke-width="0.18">4.8</text>
<text transform="translate(424.2,141.0) rotate(16.0) scale(0.960,1)" font-size="5.70" text-anchor="middle" font-weight="normal" font-style="italic" fill="#111" stroke="#111" stroke-width="0.18">X (cm)</text>
<text transform="translate(529.0,134.8) rotate(-35.0) scale(0.960,1)" font-size="5.70" text-anchor="middle" font-weight="normal" font-style="italic" fill="#111" stroke="#111" stroke-width="0.18">Y (cm)</text>
<text transform="translate(149.5,188.2) scale(1.349,1)" font-size="7.40" text-anchor="middle" font-weight="bold" font-style="normal" fill="#10589c" stroke="#10589c" stroke-width="0.12">Total Thickness in nm vs. Position</text>
<polygon points="45.0,287.5 145.0,263.5 247.8,280.0 172.0,311.8" fill="#e2e2fa"/>
<path d="M45.0,287.5L145.0,263.5M45.0,287.5L172.0,311.8M64.6,291.2L161.1,266.1M65.6,282.5L187.9,305.1M84.7,295.1L177.7,268.7M84.4,278.0L202.3,299.1M105.5,299.1L194.6,271.5M101.5,273.9L215.3,293.6M127.0,303.2L211.9,274.2M117.2,270.2L227.1,288.7M149.1,307.4L229.6,277.1M131.7,266.7L237.9,284.2M172.0,311.8L247.8,280.0M145.0,263.5L247.8,280.0" stroke="#62627c" stroke-width="0.5" fill="none"/>
<clipPath id="c9"><polygon points="88.2,232.8 88.8,229.6 95.0,225.4 101.5,221.1 108.0,222.2 115.0,223.6 129.9,228.5 144.9,233.2 155.0,235.8 170.0,240.5 184.9,244.6 196.9,244.2 209.7,241.2 209.9,241.9 199.9,245.2 192.4,247.4 184.0,249.4 176.7,250.8 170.0,252.6 155.0,255.4 150.9,256.8 140.0,255.5 125.0,253.5 110.0,252.0 100.0,251.9 96.2,243.7 89.5,238.5"/></clipPath>
<g clip-path="url(#c9)">
<polygon points="88.2,232.8 88.8,229.6 95.0,225.4 101.5,221.1 108.0,222.2 115.0,223.6 129.9,228.5 144.9,233.2 155.0,235.8 170.0,240.5 184.9,244.6 196.9,244.2 209.7,241.2 209.9,241.9 199.9,245.2 192.4,247.4 184.0,249.4 176.7,250.8 170.0,252.6 155.0,255.4 150.9,256.8 140.0,255.5 125.0,253.5 110.0,252.0 100.0,251.9 96.2,243.7 89.5,238.5" fill="#14c4f0"/>
<polygon points="148,260 151,246 156,240 164,237 215,237 215,262" fill="#10e2c0"/>
<polygon points="154,260 157,249 163,243.5 170,240.5 180,239 215,239 215,262" fill="#18dc84"/>
<polygon points="188,252 193,245.2 200,243.3 215,238 215,252" fill="#1c50a8"/>
<path d="M168,253.2L176.7,250.8L184,249.4L192.4,247.4L199.9,245.2L209.9,241.9" stroke="#2058c8" stroke-width="1.1" fill="none"/>
<polygon points="80.0,249.0 96.2,245.5 102.0,243.5 110.0,241.8 125.0,239.4 149.4,237.0 160.0,240.0 210.0,40.0 30.0,49.0" fill="#2274f0"/>
<polygon points="80.0,240.7 89.5,237.9 95.0,236.5 102.0,234.6 110.0,233.1 123.6,231.2 134.4,230.2 150.0,234.7 200.0,34.7 30.0,40.7" fill="#5040f0"/>
<polygon points="80.0,232.5 88.3,231.0 95.0,228.8 102.0,226.8 110.0,225.6 120.2,224.6 128.0,226.5 178.0,26.5 30.0,32.5" fill="#b03cf0"/>
<path d="M84.0,222.0L124.0,216.0L159.0,219.0L219.0,228.0M84.0,224.0L124.0,218.0L159.0,221.0L219.0,230.0M84.0,226.0L124.0,220.0L159.0,223.0L219.0,232.0M84.0,228.0L124.0,222.0L159.0,225.0L219.0,234.0M84.0,230.0L124.0,224.0L159.0,227.0L219.0,236.0M84.0,232.0L124.0,226.0L159.0,229.0L219.0,238.0M84.0,234.0L124.0,228.0L159.0,231.0L219.0,240.0M84.0,236.0L124.0,230.0L159.0,233.0L219.0,242.0M84.0,238.0L124.0,232.0L159.0,235.0L219.0,244.0M84.0,240.0L124.0,234.0L159.0,237.0L219.0,246.0M84.0,242.0L124.0,236.0L159.0,239.0L219.0,248.0M84.0,244.0L124.0,238.0L159.0,241.0L219.0,250.0M84.0,246.0L124.0,240.0L159.0,243.0L219.0,252.0M84.0,248.0L124.0,242.0L159.0,245.0L219.0,254.0M84.0,250.0L124.0,244.0L159.0,247.0L219.0,256.0M84.0,252.0L124.0,246.0L159.0,249.0L219.0,258.0M84.0,254.0L124.0,248.0L159.0,251.0L219.0,260.0M84.0,256.0L124.0,250.0L159.0,253.0L219.0,262.0M84.0,258.0L124.0,252.0L159.0,255.0L219.0,264.0M84.0,260.0L124.0,254.0L159.0,257.0L219.0,266.0M84.0,262.0L124.0,256.0L159.0,259.0L219.0,268.0M84.0,264.0L124.0,258.0L159.0,261.0L219.0,270.0M84.0,266.0L124.0,260.0L159.0,263.0L219.0,272.0M84.0,268.0L124.0,262.0L159.0,265.0L219.0,274.0M84.0,270.0L124.0,264.0L159.0,267.0L219.0,276.0M84.0,272.0L124.0,266.0L159.0,269.0L219.0,278.0M64.0,214.0L94.0,232.0L114.0,262.0M68.0,214.0L98.0,232.0L118.0,262.0M72.0,214.0L102.0,232.0L122.0,262.0M76.0,214.0L106.0,232.0L126.0,262.0M80.0,214.0L110.0,232.0L130.0,262.0M84.0,214.0L114.0,232.0L134.0,262.0M88.0,214.0L118.0,232.0L138.0,262.0M92.0,214.0L122.0,232.0L142.0,262.0M96.0,214.0L126.0,232.0L146.0,262.0M100.0,214.0L130.0,232.0L150.0,262.0M104.0,214.0L134.0,232.0L154.0,262.0M108.0,214.0L138.0,232.0L158.0,262.0M112.0,214.0L142.0,232.0L162.0,262.0M116.0,214.0L146.0,232.0L166.0,262.0M120.0,214.0L150.0,232.0L170.0,262.0M124.0,214.0L154.0,232.0L174.0,262.0M128.0,214.0L158.0,232.0L178.0,262.0M132.0,214.0L162.0,232.0L182.0,262.0M136.0,214.0L166.0,232.0L186.0,262.0M140.0,214.0L170.0,232.0L190.0,262.0M144.0,214.0L174.0,232.0L194.0,262.0M148.0,214.0L178.0,232.0L198.0,262.0M152.0,214.0L182.0,232.0L202.0,262.0M156.0,214.0L186.0,232.0L206.0,262.0M160.0,214.0L190.0,232.0L210.0,262.0M164.0,214.0L194.0,232.0L214.0,262.0M168.0,214.0L198.0,232.0L218.0,262.0M172.0,214.0L202.0,232.0L222.0,262.0M176.0,214.0L206.0,232.0L226.0,262.0M180.0,214.0L210.0,232.0L230.0,262.0M184.0,214.0L214.0,232.0L234.0,262.0M188.0,214.0L218.0,232.0L238.0,262.0M192.0,214.0L222.0,232.0L242.0,262.0M196.0,214.0L226.0,232.0L246.0,262.0M200.0,214.0L230.0,232.0L250.0,262.0M204.0,214.0L234.0,232.0L254.0,262.0M208.0,214.0L238.0,232.0L258.0,262.0M212.0,214.0L242.0,232.0L262.0,262.0M216.0,214.0L246.0,232.0L266.0,262.0M220.0,214.0L250.0,232.0L270.0,262.0" fill="none" stroke="#202030" stroke-width="0.35" stroke-opacity="0.4"/>
</g>
<polygon points="88.2,232.8 88.8,229.6 95.0,225.4 101.5,221.1 108.0,222.2 115.0,223.6 129.9,228.5 144.9,233.2 155.0,235.8 170.0,240.5 184.9,244.6 196.9,244.2 209.7,241.2 209.9,241.9 199.9,245.2 192.4,247.4 184.0,249.4 176.7,250.8 170.0,252.6 155.0,255.4 150.9,256.8 140.0,255.5 125.0,253.5 110.0,252.0 100.0,251.9 96.2,243.7 89.5,238.5" fill="none" stroke="#202030" stroke-width="0.35" stroke-opacity="0.5"/>
<clipPath id="c10"><polygon points="96.2,243.7 99.7,247.5 115.9,248.2 131.4,251.3 150.9,254.5 150.9,256.8 146.0,265.4 139.5,275.9 125.4,274.4 112.7,272.9 109.0,269.2 104.5,260.9 100.0,251.9"/></clipPath>
<g clip-path="url(#c10)">
<polygon points="96.2,243.7 99.7,247.5 115.9,248.2 131.4,251.3 150.9,254.5 150.9,256.8 146.0,265.4 139.5,275.9 125.4,274.4 112.7,272.9 109.0,269.2 104.5,260.9 100.0,251.9" fill="#2ce024"/>
<polygon points="95.0,264.0 155.0,265.3 555.0,265.3 555.0,-134.7 -305.0,-136.0 -305.0,264.0" fill="#10e878"/>
<polygon points="95.0,256.7 155.0,258.2 555.0,258.2 555.0,-141.8 -305.0,-143.3 -305.0,256.7" fill="#10e2c0"/>
<polygon points="95.0,240.0 155.0,240.0 555.0,240.0 555.0,-160.0 -305.0,-160.0 -305.0,240.0" fill="#14c4f0"/>
<path d="M100.0,246.0L113.0,276.0M106.0,246.0L116.0,276.0M112.0,246.0L119.0,276.0M118.0,246.0L122.0,276.0M124.0,246.0L125.0,276.0M130.0,246.0L128.0,276.0M136.0,246.0L131.0,276.0M142.0,246.0L134.0,276.0M148.0,246.0L137.0,276.0M100.0,257.5L120.0,259.0L133.0,263.0L150.0,262.0M100.0,264.0L118.0,266.0L130.0,269.5L150.0,268.0" fill="none" stroke="#202030" stroke-width="0.40" stroke-opacity="0.50"/>
</g>
<polygon points="96.2,243.7 99.7,247.5 115.9,248.2 131.4,251.3 150.9,254.5 150.9,256.8 146.0,265.4 139.5,275.9 125.4,274.4 112.7,272.9 109.0,269.2 104.5,260.9 100.0,251.9" fill="none" stroke="#202030" stroke-width="0.4" stroke-opacity="0.6"/>
<polygon points="177.5,249.6 192.5,246 183,253.6" fill="#2ce024" stroke="#202030" stroke-width="0.3" stroke-opacity="0.4"/>
<polygon points="36.4,287.4 45.0,287.4 44.7,282.0 36.1,282.0" fill="#f83434"/>
<polygon points="36.1,282.0 44.7,282.0 44.3,276.7 35.7,276.7" fill="#ff8a1e"/>
<polygon points="35.7,276.7 44.3,276.7 44.0,271.3 35.4,271.3" fill="#ffe000"/>
<polygon points="35.4,271.3 44.0,271.3 43.7,265.9 35.1,265.9" fill="#a4e81c"/>
<polygon points="35.1,265.9 43.7,265.9 43.3,260.6 34.7,260.6" fill="#2ce024"/>
<polygon points="34.7,260.6 43.3,260.6 43.0,255.2 34.4,255.2" fill="#10e878"/>
<polygon points="34.4,255.2 43.0,255.2 42.7,249.8 34.1,249.8" fill="#10e2c0"/>
<polygon points="34.1,249.8 42.7,249.8 42.3,244.5 33.7,244.5" fill="#14c4f0"/>
<polygon points="33.7,244.5 42.3,244.5 42.0,239.1 33.4,239.1" fill="#2274f0"/>
<polygon points="33.4,239.1 42.0,239.1 41.7,233.7 33.1,233.7" fill="#5040f0"/>
<polygon points="33.1,233.7 41.7,233.7 41.3,228.4 32.7,228.4" fill="#b03cf0"/>
<polygon points="32.7,228.4 41.3,228.4 41.0,223.0 32.4,223.0" fill="#ff40f0"/>
<text transform="translate(29.6,225.8) scale(1.250,1)" font-size="6.20" text-anchor="end" font-weight="normal" font-style="normal" fill="#111" stroke="#111" stroke-width="0.18">600.0</text>
<text transform="translate(30.2,236.6) scale(1.250,1)" font-size="6.20" text-anchor="end" font-weight="normal" font-style="normal" fill="#111" stroke="#111" stroke-width="0.18">500.0</text>
<text transform="translate(30.9,247.3) scale(1.250,1)" font-size="6.20" text-anchor="end" font-weight="normal" font-style="normal" fill="#111" stroke="#111" stroke-width="0.18">400.0</text>
<text transform="translate(31.5,258.0) scale(1.250,1)" font-size="6.20" text-anchor="end" font-weight="normal" font-style="normal" fill="#111" stroke="#111" stroke-width="0.18">300.0</text>
<text transform="translate(32.1,268.8) scale(1.250,1)" font-size="6.20" text-anchor="end" font-weight="normal" font-style="normal" fill="#111" stroke="#111" stroke-width="0.18">200.0</text>
<text transform="translate(32.8,279.5) scale(1.250,1)" font-size="6.20" text-anchor="end" font-weight="normal" font-style="normal" fill="#111" stroke="#111" stroke-width="0.18">100.0</text>
<text transform="translate(33.4,290.2) scale(1.250,1)" font-size="6.20" text-anchor="end" font-weight="normal" font-style="normal" fill="#111" stroke="#111" stroke-width="0.18">0.0</text>
<text transform="translate(47.0,295.5) scale(1.250,1)" font-size="6.00" text-anchor="middle" font-weight="normal" font-style="normal" fill="#111" stroke="#111" stroke-width="0.18">-4.8</text>
<text transform="translate(70.0,300.2) scale(1.250,1)" font-size="6.00" text-anchor="middle" font-weight="normal" font-style="normal" fill="#111" stroke="#111" stroke-width="0.18">-2.4</text>
<text transform="translate(95.0,304.6) scale(1.250,1)" font-size="6.00" text-anchor="middle" font-weight="normal" font-style="normal" fill="#111" stroke="#111" stroke-width="0.18">0.0</text>
<text transform="translate(121.0,309.8) scale(1.250,1)" font-size="6.00" text-anchor="middle" font-weight="normal" font-style="normal" fill="#111" stroke="#111" stroke-width="0.18">2.4</text>
<text transform="translate(149.8,314.5) scale(1.250,1)" font-size="6.00" text-anchor="middle" font-weight="normal" font-style="normal" fill="#111" stroke="#111" stroke-width="0.18">4.8</text>
<text transform="translate(191.1,313.3) scale(1.250,1)" font-size="6.00" text-anchor="middle" font-weight="normal" font-style="normal" fill="#111" stroke="#111" stroke-width="0.18">-4.8</text>
<text transform="translate(207.6,306.4) scale(1.250,1)" font-size="6.00" text-anchor="middle" font-weight="normal" font-style="normal" fill="#111" stroke="#111" stroke-width="0.18">-2.4</text>
<text transform="translate(222.1,300.0) scale(1.250,1)" font-size="6.00" text-anchor="middle" font-weight="normal" font-style="normal" fill="#111" stroke="#111" stroke-width="0.18">0.0</text>
<text transform="translate(236.9,293.4) scale(1.250,1)" font-size="6.00" text-anchor="middle" font-weight="normal" font-style="normal" fill="#111" stroke="#111" stroke-width="0.18">2.4</text>
<text transform="translate(250.1,287.3) scale(1.250,1)" font-size="6.00" text-anchor="middle" font-weight="normal" font-style="normal" fill="#111" stroke="#111" stroke-width="0.18">4.8</text>
<text transform="translate(91.0,310.2) rotate(12.0) scale(1.250,1)" font-size="5.80" text-anchor="middle" font-weight="normal" font-style="italic" fill="#111" stroke="#111" stroke-width="0.18">X (cm)</text>
<text transform="translate(233.0,303.8) rotate(-25.0) scale(1.250,1)" font-size="5.80" text-anchor="middle" font-weight="normal" font-style="italic" fill="#111" stroke="#111" stroke-width="0.18">Y (cm)</text>
<text transform="translate(423.5,186.8) scale(1.317,1)" font-size="7.20" text-anchor="middle" font-weight="bold" font-style="normal" fill="#10589c" stroke="#10589c" stroke-width="0.12">Total Thickness in nm vs. Position</text>
<polygon points="324.0,287.6 419.0,264.8 517.2,278.8 443.5,311.5" fill="#e2e2fa"/>
<path d="M324.0,287.6L419.0,264.8M324.0,287.6L443.5,311.5M341.2,291.0L433.7,266.9M344.0,282.8L459.6,304.3M359.4,294.7L449.0,269.1M362.0,278.5L473.8,298.0M378.6,298.5L465.0,271.4M378.3,274.6L486.5,292.4M398.9,302.6L481.6,273.7M393.1,271.0L497.8,287.4M420.5,306.9L499.0,276.2M406.6,267.8L508.0,282.9M443.5,311.5L517.2,278.8M419.0,264.8L517.2,278.8" stroke="#62627c" stroke-width="0.5" fill="none"/>
<clipPath id="c11"><polygon points="364.7,231.7 368.5,229.5 369.2,226.5 377.5,225.0 378.2,221.2 384.2,225.0 395.4,224.2 404.4,227.2 414.9,231.0 425.0,235.0 440.0,240.5 455.0,243.5 467.0,242.7 480.4,240.2 480.6,241.0 470.0,243.7 458.0,245.2 451.2,247.8 447.5,249.5 440.0,252.0 425.0,255.0 419.4,256.3 410.0,253.5 398.0,251.5 388.0,250.5 377.5,250.4 374.5,246.0 372.2,240.7 366.2,237.7"/></clipPath>
<g clip-path="url(#c11)">
<polygon points="364.7,231.7 368.5,229.5 369.2,226.5 377.5,225.0 378.2,221.2 384.2,225.0 395.4,224.2 404.4,227.2 414.9,231.0 425.0,235.0 440.0,240.5 455.0,243.5 467.0,242.7 480.4,240.2 480.6,241.0 470.0,243.7 458.0,245.2 451.2,247.8 447.5,249.5 440.0,252.0 425.0,255.0 419.4,256.3 410.0,253.5 398.0,251.5 388.0,250.5 377.5,250.4 374.5,246.0 372.2,240.7 366.2,237.7" fill="#14c4f0"/>
<polygon points="424,258 427,247 432,241.5 440,238 490,237 490,262" fill="#10e2c0"/>
<polygon points="431,258 434,248.5 441,243.5 449,241 490,240 490,262" fill="#18dc84"/>
<polygon points="454,250 459,244 470,242 490,237 490,250" fill="#1c50a8"/>
<path d="M436,253.2L440,252L447.5,249.5L451.2,247.8L458,245.2L470,243.7L480.6,241" stroke="#2058c8" stroke-width="1.1" fill="none"/>
<polygon points="360.0,249.0 373.0,245.7 385.9,242.8 400.0,240.2 416.8,238.3 425.0,239.5 432.3,242.0 440.0,245.0 490.0,45.0 310.0,49.0" fill="#2274f0"/>
<polygon points="360.0,240.5 365.5,239.2 380.0,235.5 395.0,232.3 408.0,230.2 416.0,231.5 422.0,234.5 472.0,34.5 310.0,40.5" fill="#5040f0"/>
<polygon points="360.0,231.5 367.7,229.2 372.0,228.0 380.0,227.0 392.5,225.2 398.0,226.5 448.0,26.5 310.0,31.5" fill="#b03cf0"/>
<path d="M358.0,222.0L398.0,216.0L433.0,219.0L493.0,228.0M358.0,224.0L398.0,218.0L433.0,221.0L493.0,230.0M358.0,226.0L398.0,220.0L433.0,223.0L493.0,232.0M358.0,228.0L398.0,222.0L433.0,225.0L493.0,234.0M358.0,230.0L398.0,224.0L433.0,227.0L493.0,236.0M358.0,232.0L398.0,226.0L433.0,229.0L493.0,238.0M358.0,234.0L398.0,228.0L433.0,231.0L493.0,240.0M358.0,236.0L398.0,230.0L433.0,233.0L493.0,242.0M358.0,238.0L398.0,232.0L433.0,235.0L493.0,244.0M358.0,240.0L398.0,234.0L433.0,237.0L493.0,246.0M358.0,242.0L398.0,236.0L433.0,239.0L493.0,248.0M358.0,244.0L398.0,238.0L433.0,241.0L493.0,250.0M358.0,246.0L398.0,240.0L433.0,243.0L493.0,252.0M358.0,248.0L398.0,242.0L433.0,245.0L493.0,254.0M358.0,250.0L398.0,244.0L433.0,247.0L493.0,256.0M358.0,252.0L398.0,246.0L433.0,249.0L493.0,258.0M358.0,254.0L398.0,248.0L433.0,251.0L493.0,260.0M358.0,256.0L398.0,250.0L433.0,253.0L493.0,262.0M358.0,258.0L398.0,252.0L433.0,255.0L493.0,264.0M358.0,260.0L398.0,254.0L433.0,257.0L493.0,266.0M358.0,262.0L398.0,256.0L433.0,259.0L493.0,268.0M358.0,264.0L398.0,258.0L433.0,261.0L493.0,270.0M358.0,266.0L398.0,260.0L433.0,263.0L493.0,272.0M358.0,268.0L398.0,262.0L433.0,265.0L493.0,274.0M358.0,270.0L398.0,264.0L433.0,267.0L493.0,276.0M358.0,272.0L398.0,266.0L433.0,269.0L493.0,278.0M338.0,214.0L368.0,232.0L388.0,262.0M342.0,214.0L372.0,232.0L392.0,262.0M346.0,214.0L376.0,232.0L396.0,262.0M350.0,214.0L380.0,232.0L400.0,262.0M354.0,214.0L384.0,232.0L404.0,262.0M358.0,214.0L388.0,232.0L408.0,262.0M362.0,214.0L392.0,232.0L412.0,262.0M366.0,214.0L396.0,232.0L416.0,262.0M370.0,214.0L400.0,232.0L420.0,262.0M374.0,214.0L404.0,232.0L424.0,262.0M378.0,214.0L408.0,232.0L428.0,262.0M382.0,214.0L412.0,232.0L432.0,262.0M386.0,214.0L416.0,232.0L436.0,262.0M390.0,214.0L420.0,232.0L440.0,262.0M394.0,214.0L424.0,232.0L444.0,262.0M398.0,214.0L428.0,232.0L448.0,262.0M402.0,214.0L432.0,232.0L452.0,262.0M406.0,214.0L436.0,232.0L456.0,262.0M410.0,214.0L440.0,232.0L460.0,262.0M414.0,214.0L444.0,232.0L464.0,262.0M418.0,214.0L448.0,232.0L468.0,262.0M422.0,214.0L452.0,232.0L472.0,262.0M426.0,214.0L456.0,232.0L476.0,262.0M430.0,214.0L460.0,232.0L480.0,262.0M434.0,214.0L464.0,232.0L484.0,262.0M438.0,214.0L468.0,232.0L488.0,262.0M442.0,214.0L472.0,232.0L492.0,262.0M446.0,214.0L476.0,232.0L496.0,262.0M450.0,214.0L480.0,232.0L500.0,262.0M454.0,214.0L484.0,232.0L504.0,262.0M458.0,214.0L488.0,232.0L508.0,262.0M462.0,214.0L492.0,232.0L512.0,262.0M466.0,214.0L496.0,232.0L516.0,262.0M470.0,214.0L500.0,232.0L520.0,262.0M474.0,214.0L504.0,232.0L524.0,262.0M478.0,214.0L508.0,232.0L528.0,262.0M482.0,214.0L512.0,232.0L532.0,262.0M486.0,214.0L516.0,232.0L536.0,262.0M490.0,214.0L520.0,232.0L540.0,262.0M494.0,214.0L524.0,232.0L544.0,262.0" fill="none" stroke="#202030" stroke-width="0.35" stroke-opacity="0.4"/>
</g>
<polygon points="364.7,231.7 368.5,229.5 369.2,226.5 377.5,225.0 378.2,221.2 384.2,225.0 395.4,224.2 404.4,227.2 414.9,231.0 425.0,235.0 440.0,240.5 455.0,243.5 467.0,242.7 480.4,240.2 480.6,241.0 470.0,243.7 458.0,245.2 451.2,247.8 447.5,249.5 440.0,252.0 425.0,255.0 419.4,256.3 410.0,253.5 398.0,251.5 388.0,250.5 377.5,250.4 374.5,246.0 372.2,240.7 366.2,237.7" fill="none" stroke="#202030" stroke-width="0.35" stroke-opacity="0.5"/>
<clipPath id="c12"><polygon points="372.2,240.7 374.5,246.0 377.5,250.4 388.0,250.5 398.0,251.5 410.0,253.5 419.4,255.7 414.9,262.4 410.4,270.7 405.9,272.9 398.4,270.7 388.0,271.4 385.0,263.9 380.5,254.9 374.5,246.0"/></clipPath>
<g clip-path="url(#c12)">
<polygon points="372.2,240.7 374.5,246.0 377.5,250.4 388.0,250.5 398.0,251.5 410.0,253.5 419.4,255.7 414.9,262.4 410.4,270.7 405.9,272.9 398.4,270.7 388.0,271.4 385.0,263.9 380.5,254.9 374.5,246.0" fill="#2ce024"/>
<polygon points="370.0,263.2 425.0,264.0 825.0,264.0 825.0,-136.0 -30.0,-136.8 -30.0,263.2" fill="#10e878"/>
<polygon points="370.0,257.3 425.0,258.3 825.0,258.3 825.0,-141.7 -30.0,-142.7 -30.0,257.3" fill="#10e2c0"/>
<polygon points="370.0,252.0 395.0,253.3 425.0,256.3 825.0,256.3 825.0,-143.7 -30.0,-148.0 -30.0,252.0" fill="#14c4f0"/>
<path d="M378.0,249.0L389.0,274.0M383.6,249.0L391.8,274.0M389.2,249.0L394.6,274.0M394.8,249.0L397.4,274.0M400.4,249.0L400.2,274.0M406.0,249.0L403.0,274.0M411.6,249.0L405.8,274.0M417.2,249.0L408.6,274.0M376.0,255.5L395.0,257.5L405.0,261.0L420.0,259.5M380.0,262.0L394.0,264.0L403.0,267.5L418.0,266.0" fill="none" stroke="#202030" stroke-width="0.40" stroke-opacity="0.50"/>
</g>
<polygon points="372.2,240.7 374.5,246.0 377.5,250.4 388.0,250.5 398.0,251.5 410.0,253.5 419.4,255.7 414.9,262.4 410.4,270.7 405.9,272.9 398.4,270.7 388.0,271.4 385.0,263.9 380.5,254.9 374.5,246.0" fill="none" stroke="#202030" stroke-width="0.4" stroke-opacity="0.6"/>
<polygon points="451.2,247.2 455.7,246.4 453.4,251.7" fill="#2ce024" stroke="#202030" stroke-width="0.3" stroke-opacity="0.4"/>
<polygon points="315.6,287.6 324.0,287.6 323.7,282.2 315.2,282.2" fill="#f83434"/>
<polygon points="315.2,282.2 323.7,282.2 323.3,276.7 314.9,276.7" fill="#ff8a1e"/>
<polygon points="314.9,276.7 323.3,276.7 323.0,271.3 314.6,271.3" fill="#ffe000"/>
<polygon points="314.6,271.3 323.0,271.3 322.7,265.9 314.2,265.9" fill="#a4e81c"/>
<polygon points="314.2,265.9 322.7,265.9 322.3,260.4 313.9,260.4" fill="#2ce024"/>
<polygon points="313.9,260.4 322.3,260.4 322.0,255.0 313.5,255.0" fill="#10e878"/>
<polygon points="313.5,255.0 322.0,255.0 321.7,249.6 313.1,249.6" fill="#10e2c0"/>
<polygon points="313.1,249.6 321.7,249.6 321.3,244.1 312.8,244.1" fill="#14c4f0"/>
<polygon points="312.8,244.1 321.3,244.1 321.0,238.7 312.4,238.7" fill="#2274f0"/>
<polygon points="312.4,238.7 321.0,238.7 320.7,233.3 312.1,233.3" fill="#5040f0"/>
<polygon points="312.1,233.3 320.7,233.3 320.3,227.8 311.8,227.8" fill="#b03cf0"/>
<polygon points="311.8,227.8 320.3,227.8 320.0,222.4 311.4,222.4" fill="#ff40f0"/>
<text transform="translate(308.6,225.2) scale(1.200,1)" font-size="6.20" text-anchor="end" font-weight="normal" font-style="normal" fill="#111" stroke="#111" stroke-width="0.18">600.0</text>
<text transform="translate(309.3,236.1) scale(1.200,1)" font-size="6.20" text-anchor="end" font-weight="normal" font-style="normal" fill="#111" stroke="#111" stroke-width="0.18">500.0</text>
<text transform="translate(309.9,246.9) scale(1.200,1)" font-size="6.20" text-anchor="end" font-weight="normal" font-style="normal" fill="#111" stroke="#111" stroke-width="0.18">400.0</text>
<text transform="translate(310.6,257.7) scale(1.200,1)" font-size="6.20" text-anchor="end" font-weight="normal" font-style="normal" fill="#111" stroke="#111" stroke-width="0.18">300.0</text>
<text transform="translate(311.3,268.6) scale(1.200,1)" font-size="6.20" text-anchor="end" font-weight="normal" font-style="normal" fill="#111" stroke="#111" stroke-width="0.18">200.0</text>
<text transform="translate(311.9,279.4) scale(1.200,1)" font-size="6.20" text-anchor="end" font-weight="normal" font-style="normal" fill="#111" stroke="#111" stroke-width="0.18">100.0</text>
<text transform="translate(312.6,290.2) scale(1.200,1)" font-size="6.20" text-anchor="end" font-weight="normal" font-style="normal" fill="#111" stroke="#111" stroke-width="0.18">0.0</text>
<text transform="translate(325.6,295.8) scale(1.200,1)" font-size="6.00" text-anchor="middle" font-weight="normal" font-style="normal" fill="#111" stroke="#111" stroke-width="0.18">-4.8</text>
<text transform="translate(348.0,300.2) scale(1.200,1)" font-size="6.00" text-anchor="middle" font-weight="normal" font-style="normal" fill="#111" stroke="#111" stroke-width="0.18">-2.4</text>
<text transform="translate(371.6,304.6) scale(1.200,1)" font-size="6.00" text-anchor="middle" font-weight="normal" font-style="normal" fill="#111" stroke="#111" stroke-width="0.18">0.0</text>
<text transform="translate(396.3,309.8) scale(1.200,1)" font-size="6.00" text-anchor="middle" font-weight="normal" font-style="normal" fill="#111" stroke="#111" stroke-width="0.18">2.4</text>
<text transform="translate(423.0,314.5) scale(1.200,1)" font-size="6.00" text-anchor="middle" font-weight="normal" font-style="normal" fill="#111" stroke="#111" stroke-width="0.18">4.8</text>
<text transform="translate(463.4,313.8) scale(1.200,1)" font-size="6.00" text-anchor="middle" font-weight="normal" font-style="normal" fill="#111" stroke="#111" stroke-width="0.18">-4.8</text>
<text transform="translate(479.2,306.4) scale(1.200,1)" font-size="6.00" text-anchor="middle" font-weight="normal" font-style="normal" fill="#111" stroke="#111" stroke-width="0.18">-2.4</text>
<text transform="translate(492.7,300.0) scale(1.200,1)" font-size="6.00" text-anchor="middle" font-weight="normal" font-style="normal" fill="#111" stroke="#111" stroke-width="0.18">0.0</text>
<text transform="translate(506.2,293.4) scale(1.200,1)" font-size="6.00" text-anchor="middle" font-weight="normal" font-style="normal" fill="#111" stroke="#111" stroke-width="0.18">2.4</text>
<text transform="translate(519.4,287.3) scale(1.200,1)" font-size="6.00" text-anchor="middle" font-weight="normal" font-style="normal" fill="#111" stroke="#111" stroke-width="0.18">4.8</text>
<text transform="translate(367.7,310.2) rotate(12.0) scale(1.200,1)" font-size="5.80" text-anchor="middle" font-weight="normal" font-style="italic" fill="#111" stroke="#111" stroke-width="0.18">X (cm)</text>
<text transform="translate(502.9,303.4) rotate(-25.0) scale(1.200,1)" font-size="5.80" text-anchor="middle" font-weight="normal" font-style="italic" fill="#111" stroke="#111" stroke-width="0.18">Y (cm)</text>
<text transform="translate(145.5,349.0) scale(1.227,1)" font-size="6.80" text-anchor="middle" font-weight="bold" font-style="normal" fill="#10589c" stroke="#10589c" stroke-width="0.12">MSE vs. Position</text>
<polygon points="56.4,436.0 130.0,414.7 229.3,429.2 164.5,457.6" fill="#e2e2fa"/>
<path d="M56.4,436.0L130.0,414.7M56.4,436.0L164.5,457.6M72.1,439.1L144.7,416.9M70.5,431.9L177.2,452.0M88.5,442.4L160.1,419.1M83.8,428.1L189.1,446.8M106.0,445.9L176.2,421.4M96.4,424.4L200.2,442.0M124.4,449.6L193.1,423.9M108.2,421.0L210.5,437.4M143.8,453.5L210.8,426.5M119.4,417.8L220.2,433.2M164.5,457.6L229.3,429.2M130.0,414.7L229.3,429.2" stroke="#62627c" stroke-width="0.5" fill="none"/>
<clipPath id="c13"><polygon points="93.7,401.5 102.0,396.2 103.5,394.0 112.0,393.5 120.0,391.0 127.5,386.5 134.2,376.7 139.4,380.5 144.0,381.0 149.0,379.2 158.0,377.0 170.0,378.5 182.0,380.0 189.4,383.0 195.4,389.0 197.7,392.7 195.4,398.0 192.4,400.2 185.0,401.7 179.0,404.7 173.0,408.4 167.0,414.4 161.0,420.0 155.6,423.6 150.5,419.4 144.5,413.0 140.9,410.4 132.0,405.2 120.0,400.7 111.0,397.7 105.0,401.5 99.7,414.2"/></clipPath>
<g clip-path="url(#c13)">
<polygon points="93.7,401.5 102.0,396.2 103.5,394.0 112.0,393.5 120.0,391.0 127.5,386.5 134.2,376.7 139.4,380.5 144.0,381.0 149.0,379.2 158.0,377.0 170.0,378.5 182.0,380.0 189.4,383.0 195.4,389.0 197.7,392.7 195.4,398.0 192.4,400.2 185.0,401.7 179.0,404.7 173.0,408.4 167.0,414.4 161.0,420.0 155.6,423.6 150.5,419.4 144.5,413.0 140.9,410.4 132.0,405.2 120.0,400.7 111.0,397.7 105.0,401.5 99.7,414.2" fill="#2ce024"/>
<polygon points="90.0,410.3 108.0,410.8 112.0,415.0 125.0,418.2 150.5,418.2 162.5,418.2 170.0,418.0 570.0,418.0 570.0,18.0 -310.0,10.3 -310.0,410.3" fill="#10e878"/>
<polygon points="90.0,407.0 108.0,407.5 112.0,411.0 125.0,414.0 146.0,413.8 167.7,413.7 175.0,413.0 575.0,413.0 575.0,13.0 -310.0,7.0 -310.0,407.0" fill="#10e2c0"/>
<polygon points="90.0,403.5 108.0,404.0 112.0,407.0 125.0,409.5 140.0,409.4 172.2,409.2 180.0,408.0 580.0,408.0 580.0,8.0 -310.0,3.5 -310.0,403.5" fill="#14c4f0"/>
<polygon points="90.0,399.8 106.0,400.2 112.0,402.0 120.0,403.5 135.0,405.2 140.0,404.6 162.5,404.2 179.0,404.2 185.0,401.5 190.0,398.0 194.0,394.5 200.0,393.0 600.0,393.0 600.0,-7.0 -310.0,-0.2 -310.0,399.8" fill="#2274f0"/>
<polygon points="90.0,397.8 100.0,397.5 108.0,396.5 120.0,397.5 127.5,398.5 140.0,398.7 162.5,398.7 185.0,397.2 192.0,394.0 197.7,391.5 202.0,390.0 602.0,390.0 602.0,-10.0 -310.0,-2.2 -310.0,397.8" fill="#5040f0"/>
<polygon points="110.0,393.0 115.0,392.5 127.5,392.5 140.0,392.0 162.5,392.7 182.0,392.0 194.0,387.5 200.0,384.0 600.0,384.0 600.0,-16.0 -290.0,-7.0 -290.0,393.0" fill="#b03cf0"/>
<polygon points="126.0,377.0 131.5,379.3 134.2,380.0 137.0,379.3 140.0,378.5 149.0,378.5 152.0,381.0 156.0,384.3 162.5,385.8 177.5,385.2 188.0,383.0 192.0,380.0 592.0,380.0 592.0,-20.0 -274.0,-23.0 -274.0,377.0" fill="#ff40f0"/>
<path d="M46.0,370.0L76.0,400.0L94.0,425.0M116.0,370.0L82.0,400.0L60.0,425.0M54.5,370.0L84.5,400.0L102.5,425.0M124.5,370.0L90.5,400.0L68.5,425.0M63.0,370.0L93.0,400.0L111.0,425.0M133.0,370.0L99.0,400.0L77.0,425.0M71.5,370.0L101.5,400.0L119.5,425.0M141.5,370.0L107.5,400.0L85.5,425.0M80.0,370.0L110.0,400.0L128.0,425.0M150.0,370.0L116.0,400.0L94.0,425.0M88.5,370.0L118.5,400.0L136.5,425.0M158.5,370.0L124.5,400.0L102.5,425.0M97.0,370.0L127.0,400.0L145.0,425.0M167.0,370.0L133.0,400.0L111.0,425.0M105.5,370.0L135.5,400.0L153.5,425.0M175.5,370.0L141.5,400.0L119.5,425.0M114.0,370.0L144.0,400.0L162.0,425.0M184.0,370.0L150.0,400.0L128.0,425.0M122.5,370.0L152.5,400.0L170.5,425.0M192.5,370.0L158.5,400.0L136.5,425.0M131.0,370.0L161.0,400.0L179.0,425.0M201.0,370.0L167.0,400.0L145.0,425.0M139.5,370.0L169.5,400.0L187.5,425.0M209.5,370.0L175.5,400.0L153.5,425.0M148.0,370.0L178.0,400.0L196.0,425.0M218.0,370.0L184.0,400.0L162.0,425.0M156.5,370.0L186.5,400.0L204.5,425.0M226.5,370.0L192.5,400.0L170.5,425.0M165.0,370.0L195.0,400.0L213.0,425.0M235.0,370.0L201.0,400.0L179.0,425.0M173.5,370.0L203.5,400.0L221.5,425.0M243.5,370.0L209.5,400.0L187.5,425.0M182.0,370.0L212.0,400.0L230.0,425.0M252.0,370.0L218.0,400.0L196.0,425.0M190.5,370.0L220.5,400.0L238.5,425.0M260.5,370.0L226.5,400.0L204.5,425.0M199.0,370.0L229.0,400.0L247.0,425.0M269.0,370.0L235.0,400.0L213.0,425.0M207.5,370.0L237.5,400.0L255.5,425.0M277.5,370.0L243.5,400.0L221.5,425.0" fill="none" stroke="#202030" stroke-width="0.40" stroke-opacity="0.60"/>
</g>
<polygon points="93.7,401.5 102.0,396.2 103.5,394.0 112.0,393.5 120.0,391.0 127.5,386.5 134.2,376.7 139.4,380.5 144.0,381.0 149.0,379.2 158.0,377.0 170.0,378.5 182.0,380.0 189.4,383.0 195.4,389.0 197.7,392.7 195.4,398.0 192.4,400.2 185.0,401.7 179.0,404.7 173.0,408.4 167.0,414.4 161.0,420.0 155.6,423.6 150.5,419.4 144.5,413.0 140.9,410.4 132.0,405.2 120.0,400.7 111.0,397.7 105.0,401.5 99.7,414.2" fill="none" stroke="#202030" stroke-width="0.4" stroke-opacity="0.6"/>
<polygon points="49.0,436.0 56.4,436.0 56.1,431.3 48.7,431.3" fill="#f83434"/>
<polygon points="48.7,431.3 56.1,431.3 55.8,426.6 48.4,426.6" fill="#ff8a1e"/>
<polygon points="48.4,426.6 55.8,426.6 55.5,421.9 48.1,421.9" fill="#ffe000"/>
<polygon points="48.1,421.9 55.5,421.9 55.3,417.2 47.9,417.2" fill="#a4e81c"/>
<polygon points="47.9,417.2 55.3,417.2 55.0,412.5 47.6,412.5" fill="#2ce024"/>
<polygon points="47.6,412.5 55.0,412.5 54.7,407.8 47.3,407.8" fill="#10e878"/>
<polygon points="47.3,407.8 54.7,407.8 54.4,403.1 47.0,403.1" fill="#10e2c0"/>
<polygon points="47.0,403.1 54.4,403.1 54.1,398.4 46.7,398.4" fill="#14c4f0"/>
<polygon points="46.7,398.4 54.1,398.4 53.9,393.7 46.5,393.7" fill="#2274f0"/>
<polygon points="46.5,393.7 53.9,393.7 53.6,389.0 46.2,389.0" fill="#5040f0"/>
<polygon points="46.2,389.0 53.6,389.0 53.3,384.3 45.9,384.3" fill="#b03cf0"/>
<polygon points="45.9,384.3 53.3,384.3 53.0,379.6 45.6,379.6" fill="#ff40f0"/>
<text transform="translate(43.0,381.9) scale(1.300,1)" font-size="5.20" text-anchor="end" font-weight="normal" font-style="normal" fill="#111" stroke="#111" stroke-width="0.18">60.00</text>
<text transform="translate(43.6,391.3) scale(1.300,1)" font-size="5.20" text-anchor="end" font-weight="normal" font-style="normal" fill="#111" stroke="#111" stroke-width="0.18">50.00</text>
<text transform="translate(44.2,400.7) scale(1.300,1)" font-size="5.20" text-anchor="end" font-weight="normal" font-style="normal" fill="#111" stroke="#111" stroke-width="0.18">40.00</text>
<text transform="translate(44.8,410.2) scale(1.300,1)" font-size="5.20" text-anchor="end" font-weight="normal" font-style="normal" fill="#111" stroke="#111" stroke-width="0.18">30.00</text>
<text transform="translate(45.4,419.6) scale(1.300,1)" font-size="5.20" text-anchor="end" font-weight="normal" font-style="normal" fill="#111" stroke="#111" stroke-width="0.18">20.00</text>
<text transform="translate(46.0,429.0) scale(1.300,1)" font-size="5.20" text-anchor="end" font-weight="normal" font-style="normal" fill="#111" stroke="#111" stroke-width="0.18">10.00</text>
<text transform="translate(46.6,438.5) scale(1.300,1)" font-size="5.20" text-anchor="end" font-weight="normal" font-style="normal" fill="#111" stroke="#111" stroke-width="0.18">0.00</text>
<text transform="translate(58.0,443.3) scale(1.300,1)" font-size="5.20" text-anchor="middle" font-weight="normal" font-style="normal" fill="#111" stroke="#111" stroke-width="0.18">-4.8</text>
<text transform="translate(78.0,447.5) scale(1.300,1)" font-size="5.20" text-anchor="middle" font-weight="normal" font-style="normal" fill="#111" stroke="#111" stroke-width="0.18">-2.4</text>
<text transform="translate(99.4,451.9) scale(1.300,1)" font-size="5.20" text-anchor="middle" font-weight="normal" font-style="normal" fill="#111" stroke="#111" stroke-width="0.18">0.0</text>
<text transform="translate(122.0,455.9) scale(1.300,1)" font-size="5.20" text-anchor="middle" font-weight="normal" font-style="normal" fill="#111" stroke="#111" stroke-width="0.18">2.4</text>
<text transform="translate(145.3,460.1) scale(1.300,1)" font-size="5.20" text-anchor="middle" font-weight="normal" font-style="normal" fill="#111" stroke="#111" stroke-width="0.18">4.8</text>
<text transform="translate(180.4,459.3) scale(1.300,1)" font-size="5.20" text-anchor="middle" font-weight="normal" font-style="normal" fill="#111" stroke="#111" stroke-width="0.18">-4.8</text>
<text transform="translate(194.9,453.0) scale(1.300,1)" font-size="5.20" text-anchor="middle" font-weight="normal" font-style="normal" fill="#111" stroke="#111" stroke-width="0.18">-2.4</text>
<text transform="translate(207.6,447.1) scale(1.300,1)" font-size="5.20" text-anchor="middle" font-weight="normal" font-style="normal" fill="#111" stroke="#111" stroke-width="0.18">0.0</text>
<text transform="translate(220.3,441.5) scale(1.300,1)" font-size="5.20" text-anchor="middle" font-weight="normal" font-style="normal" fill="#111" stroke="#111" stroke-width="0.18">2.4</text>
<text transform="translate(231.8,436.4) scale(1.300,1)" font-size="5.20" text-anchor="middle" font-weight="normal" font-style="normal" fill="#111" stroke="#111" stroke-width="0.18">4.8</text>
<text transform="translate(95.6,456.5) rotate(12.0) scale(1.300,1)" font-size="5.00" text-anchor="middle" font-weight="normal" font-style="italic" fill="#111" stroke="#111" stroke-width="0.18">X (cm)</text>
<text transform="translate(216.5,450.5) rotate(-25.0) scale(1.300,1)" font-size="5.00" text-anchor="middle" font-weight="normal" font-style="italic" fill="#111" stroke="#111" stroke-width="0.18">Y (cm)</text>
<text transform="translate(424.9,349.8) scale(1.367,1)" font-size="6.80" text-anchor="middle" font-weight="bold" font-style="normal" fill="#10589c" stroke="#10589c" stroke-width="0.12">MSE vs. Position</text>
<polygon points="326.0,435.6 411.0,414.0 518.2,428.5 445.0,456.5" fill="#e2e2fa"/>
<path d="M326.0,435.6L411.0,414.0M326.0,435.6L445.0,456.5M343.7,438.7L427.3,416.2M342.4,431.4L459.4,451.0M362.2,442.0L444.1,418.5M357.8,427.5L472.8,445.9M381.5,445.3L461.6,420.8M372.3,423.8L485.3,441.1M401.7,448.9L479.8,423.3M386.0,420.4L497.0,436.6M422.8,452.6L498.6,425.8M398.8,417.1L507.9,432.4M445.0,456.5L518.2,428.5M411.0,414.0L518.2,428.5" stroke="#62627c" stroke-width="0.5" fill="none"/>
<clipPath id="c14"><polygon points="367.5,402.2 375.0,398.5 378.7,397.0 382.5,385.7 387.7,389.5 394.5,391.7 402.0,389.5 408.0,385.0 412.3,377.0 417.7,381.2 420.5,383.0 429.5,381.5 440.0,380.7 455.0,379.2 458.0,384.5 461.0,395.0 470.0,398.7 477.4,401.7 481.6,404.7 479.0,408.4 474.4,411.4 467.0,413.7 459.4,416.7 452.0,421.2 444.5,425.0 437.0,425.7 431.0,422.7 425.0,417.4 420.0,412.0 415.4,406.0 408.0,400.7 399.0,399.2 390.0,397.7 385.5,398.5 379.5,403.7 374.2,414.6"/></clipPath>
<g clip-path="url(#c14)">
<polygon points="367.5,402.2 375.0,398.5 378.7,397.0 382.5,385.7 387.7,389.5 394.5,391.7 402.0,389.5 408.0,385.0 412.3,377.0 417.7,381.2 420.5,383.0 429.5,381.5 440.0,380.7 455.0,379.2 458.0,384.5 461.0,395.0 470.0,398.7 477.4,401.7 481.6,404.7 479.0,408.4 474.4,411.4 467.0,413.7 459.4,416.7 452.0,421.2 444.5,425.0 437.0,425.7 431.0,422.7 425.0,417.4 420.0,412.0 415.4,406.0 408.0,400.7 399.0,399.2 390.0,397.7 385.5,398.5 379.5,403.7 374.2,414.6" fill="#2ce024"/>
<polygon points="362.0,411.8 380.0,412.3 385.0,415.0 400.0,422.0 415.0,424.0 428.0,423.5 437.3,422.5 452.0,419.8 461.8,416.5 476.0,411.2 485.0,408.0 885.0,408.0 885.0,8.0 -38.0,11.8 -38.0,411.8" fill="#10e878"/>
<polygon points="362.0,408.1 380.0,408.6 385.0,411.0 400.0,416.0 412.0,418.0 423.5,417.8 437.3,416.2 447.5,413.8 461.8,409.0 470.0,406.2 485.0,402.0 885.0,402.0 885.0,2.0 -38.0,8.1 -38.0,408.1" fill="#10e2c0"/>
<polygon points="362.0,405.1 380.0,405.4 385.0,407.0 400.0,411.0 410.0,412.5 419.0,412.0 430.0,410.5 437.3,409.1 450.0,405.0 461.8,399.3 470.0,396.5 480.0,394.0 880.0,394.0 880.0,-6.0 -38.0,5.1 -38.0,405.1" fill="#14c4f0"/>
<polygon points="362.0,399.8 376.0,399.0 380.0,401.0 390.0,402.5 400.0,403.8 410.0,405.2 420.0,404.5 430.0,402.5 437.3,400.6 445.0,398.2 450.0,394.0 454.0,389.5 458.0,387.5 470.0,386.0 870.0,386.0 870.0,-14.0 -38.0,-0.2 -38.0,399.8" fill="#2274f0"/>
<polygon points="376.0,399.8 380.0,399.2 383.2,398.7 390.0,397.6 398.6,396.9 406.0,398.0 414.0,398.5 425.0,398.0 437.3,396.3 445.0,393.8 450.0,390.0 455.0,385.5 460.0,383.0 860.0,383.0 860.0,-17.0 -24.0,-0.2 -24.0,399.8" fill="#5040f0"/>
<polygon points="376.0,395.0 380.0,394.2 383.2,394.0 387.0,394.5 390.0,391.5 394.5,389.5 402.0,388.5 406.0,389.5 410.0,391.3 414.0,391.3 423.0,389.6 432.0,388.6 437.3,387.9 440.0,385.5 442.0,382.0 443.0,378.0 843.0,378.0 843.0,-22.0 -24.0,-5.0 -24.0,395.0" fill="#b03cf0"/>
<polygon points="378.0,391.0 380.5,389.0 382.5,388.6 385.0,389.2 388.0,392.0 400.0,393.0 405.0,386.5 408.0,383.8 412.0,383.2 416.0,383.6 419.0,381.5 422.0,379.0 822.0,379.0 822.0,-21.0 -22.0,-9.0 -22.0,391.0" fill="#ff40f0"/>
<path d="M316.0,370.0L346.0,400.0L364.0,428.0M386.0,370.0L352.0,400.0L330.0,428.0M324.5,370.0L354.5,400.0L372.5,428.0M394.5,370.0L360.5,400.0L338.5,428.0M333.0,370.0L363.0,400.0L381.0,428.0M403.0,370.0L369.0,400.0L347.0,428.0M341.5,370.0L371.5,400.0L389.5,428.0M411.5,370.0L377.5,400.0L355.5,428.0M350.0,370.0L380.0,400.0L398.0,428.0M420.0,370.0L386.0,400.0L364.0,428.0M358.5,370.0L388.5,400.0L406.5,428.0M428.5,370.0L394.5,400.0L372.5,428.0M367.0,370.0L397.0,400.0L415.0,428.0M437.0,370.0L403.0,400.0L381.0,428.0M375.5,370.0L405.5,400.0L423.5,428.0M445.5,370.0L411.5,400.0L389.5,428.0M384.0,370.0L414.0,400.0L432.0,428.0M454.0,370.0L420.0,400.0L398.0,428.0M392.5,370.0L422.5,400.0L440.5,428.0M462.5,370.0L428.5,400.0L406.5,428.0M401.0,370.0L431.0,400.0L449.0,428.0M471.0,370.0L437.0,400.0L415.0,428.0M409.5,370.0L439.5,400.0L457.5,428.0M479.5,370.0L445.5,400.0L423.5,428.0M418.0,370.0L448.0,400.0L466.0,428.0M488.0,370.0L454.0,400.0L432.0,428.0M426.5,370.0L456.5,400.0L474.5,428.0M496.5,370.0L462.5,400.0L440.5,428.0M435.0,370.0L465.0,400.0L483.0,428.0M505.0,370.0L471.0,400.0L449.0,428.0M443.5,370.0L473.5,400.0L491.5,428.0M513.5,370.0L479.5,400.0L457.5,428.0M452.0,370.0L482.0,400.0L500.0,428.0M522.0,370.0L488.0,400.0L466.0,428.0M460.5,370.0L490.5,400.0L508.5,428.0M530.5,370.0L496.5,400.0L474.5,428.0M469.0,370.0L499.0,400.0L517.0,428.0M539.0,370.0L505.0,400.0L483.0,428.0M477.5,370.0L507.5,400.0L525.5,428.0M547.5,370.0L513.5,400.0L491.5,428.0M486.0,370.0L516.0,400.0L534.0,428.0M556.0,370.0L522.0,400.0L500.0,428.0M494.5,370.0L524.5,400.0L542.5,428.0M564.5,370.0L530.5,400.0L508.5,428.0" fill="none" stroke="#202030" stroke-width="0.40" stroke-opacity="0.60"/>
</g>
<polygon points="367.5,402.2 375.0,398.5 378.7,397.0 382.5,385.7 387.7,389.5 394.5,391.7 402.0,389.5 408.0,385.0 412.3,377.0 417.7,381.2 420.5,383.0 429.5,381.5 440.0,380.7 455.0,379.2 458.0,384.5 461.0,395.0 470.0,398.7 477.4,401.7 481.6,404.7 479.0,408.4 474.4,411.4 467.0,413.7 459.4,416.7 452.0,421.2 444.5,425.0 437.0,425.7 431.0,422.7 425.0,417.4 420.0,412.0 415.4,406.0 408.0,400.7 399.0,399.2 390.0,397.7 385.5,398.5 379.5,403.7 374.2,414.6" fill="none" stroke="#202030" stroke-width="0.4" stroke-opacity="0.6"/>
<polygon points="317.6,435.6 326.0,435.6 325.7,431.0 317.3,431.0" fill="#f83434"/>
<polygon points="317.3,431.0 325.7,431.0 325.4,426.3 317.0,426.3" fill="#ff8a1e"/>
<polygon points="317.0,426.3 325.4,426.3 325.1,421.7 316.7,421.7" fill="#ffe000"/>
<polygon points="316.7,421.7 325.1,421.7 324.9,417.1 316.4,417.1" fill="#a4e81c"/>
<polygon points="316.4,417.1 324.9,417.1 324.6,412.4 316.1,412.4" fill="#2ce024"/>
<polygon points="316.1,412.4 324.6,412.4 324.3,407.8 315.8,407.8" fill="#10e878"/>
<polygon points="315.8,407.8 324.3,407.8 324.0,403.2 315.5,403.2" fill="#10e2c0"/>
<polygon points="315.5,403.2 324.0,403.2 323.7,398.5 315.2,398.5" fill="#14c4f0"/>
<polygon points="315.2,398.5 323.7,398.5 323.5,393.9 314.9,393.9" fill="#2274f0"/>
<polygon points="314.9,393.9 323.5,393.9 323.2,389.3 314.6,389.3" fill="#5040f0"/>
<polygon points="314.6,389.3 323.2,389.3 322.9,384.6 314.3,384.6" fill="#b03cf0"/>
<polygon points="314.3,384.6 322.9,384.6 322.6,380.0 314.0,380.0" fill="#ff40f0"/>
<text transform="translate(311.0,382.3) scale(1.350,1)" font-size="5.20" text-anchor="end" font-weight="normal" font-style="normal" fill="#111" stroke="#111" stroke-width="0.18">60.00</text>
<text transform="translate(311.7,391.6) scale(1.350,1)" font-size="5.20" text-anchor="end" font-weight="normal" font-style="normal" fill="#111" stroke="#111" stroke-width="0.18">50.00</text>
<text transform="translate(312.3,400.9) scale(1.350,1)" font-size="5.20" text-anchor="end" font-weight="normal" font-style="normal" fill="#111" stroke="#111" stroke-width="0.18">40.00</text>
<text transform="translate(313.0,410.3) scale(1.350,1)" font-size="5.20" text-anchor="end" font-weight="normal" font-style="normal" fill="#111" stroke="#111" stroke-width="0.18">30.00</text>
<text transform="translate(313.7,419.6) scale(1.350,1)" font-size="5.20" text-anchor="end" font-weight="normal" font-style="normal" fill="#111" stroke="#111" stroke-width="0.18">20.00</text>
<text transform="translate(314.3,428.9) scale(1.350,1)" font-size="5.20" text-anchor="end" font-weight="normal" font-style="normal" fill="#111" stroke="#111" stroke-width="0.18">10.00</text>
<text transform="translate(315.0,438.3) scale(1.350,1)" font-size="5.20" text-anchor="end" font-weight="normal" font-style="normal" fill="#111" stroke="#111" stroke-width="0.18">0.00</text>
<text transform="translate(328.0,442.9) scale(1.350,1)" font-size="5.20" text-anchor="middle" font-weight="normal" font-style="normal" fill="#111" stroke="#111" stroke-width="0.18">-4.8</text>
<text transform="translate(349.6,446.9) scale(1.350,1)" font-size="5.20" text-anchor="middle" font-weight="normal" font-style="normal" fill="#111" stroke="#111" stroke-width="0.18">-2.4</text>
<text transform="translate(373.4,451.3) scale(1.350,1)" font-size="5.20" text-anchor="middle" font-weight="normal" font-style="normal" fill="#111" stroke="#111" stroke-width="0.18">0.0</text>
<text transform="translate(398.0,455.3) scale(1.350,1)" font-size="5.20" text-anchor="middle" font-weight="normal" font-style="normal" fill="#111" stroke="#111" stroke-width="0.18">2.4</text>
<text transform="translate(424.0,459.3) scale(1.350,1)" font-size="5.20" text-anchor="middle" font-weight="normal" font-style="normal" fill="#111" stroke="#111" stroke-width="0.18">4.8</text>
<text transform="translate(463.4,458.1) scale(1.350,1)" font-size="5.20" text-anchor="middle" font-weight="normal" font-style="normal" fill="#111" stroke="#111" stroke-width="0.18">-4.8</text>
<text transform="translate(478.7,452.2) scale(1.350,1)" font-size="5.20" text-anchor="middle" font-weight="normal" font-style="normal" fill="#111" stroke="#111" stroke-width="0.18">-2.4</text>
<text transform="translate(492.7,446.1) scale(1.350,1)" font-size="5.20" text-anchor="middle" font-weight="normal" font-style="normal" fill="#111" stroke="#111" stroke-width="0.18">0.0</text>
<text transform="translate(506.2,440.8) scale(1.350,1)" font-size="5.20" text-anchor="middle" font-weight="normal" font-style="normal" fill="#111" stroke="#111" stroke-width="0.18">2.4</text>
<text transform="translate(519.9,435.7) scale(1.350,1)" font-size="5.20" text-anchor="middle" font-weight="normal" font-style="normal" fill="#111" stroke="#111" stroke-width="0.18">4.8</text>
<text transform="translate(369.0,455.5) rotate(12.0) scale(1.350,1)" font-size="5.00" text-anchor="middle" font-weight="normal" font-style="italic" fill="#111" stroke="#111" stroke-width="0.18">X (cm)</text>
<text transform="translate(504.1,449.5) rotate(-25.0) scale(1.350,1)" font-size="5.00" text-anchor="middle" font-weight="normal" font-style="italic" fill="#111" stroke="#111" stroke-width="0.18">Y (cm)</text>
</svg>
</body></html>
